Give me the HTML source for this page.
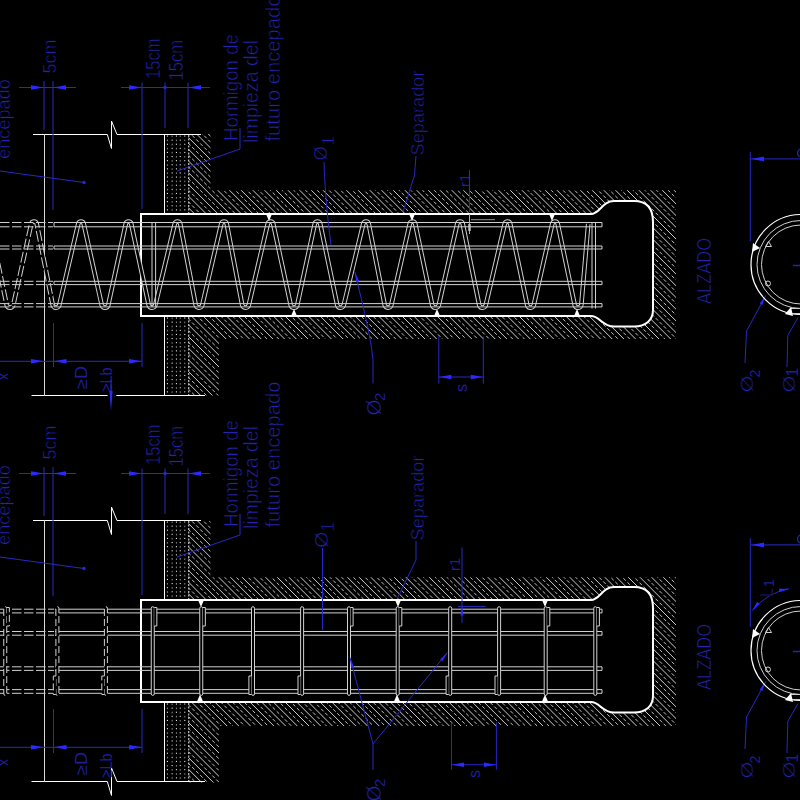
<!DOCTYPE html>
<html><head><meta charset="utf-8"><style>html,body{margin:0;padding:0;background:#000;}svg{display:block}</style></head>
<body><svg width="800" height="800" viewBox="0 0 800 800" font-family="Liberation Sans, sans-serif">
<rect width="800" height="800" fill="#000"/>
<clipPath id="hc0"><path d="M188.5,134 L210.5,134 L210.5,190.3 L676,190.3 L676,339 L219,339 L219,395.5 L188.5,395.5 Z"/></clipPath>
<g clip-path="url(#hc0)" stroke-width="1">
<line x1="180" y1="-374.00" x2="690" y2="136.00" stroke="#cccccc"/>
<line x1="180" y1="-368.15" x2="690" y2="141.85" stroke="#c0c0c0" stroke-dasharray="3.5 2.2"/>
<line x1="180" y1="-362.30" x2="690" y2="147.70" stroke="#cccccc"/>
<line x1="180" y1="-356.45" x2="690" y2="153.55" stroke="#c0c0c0" stroke-dasharray="3.5 2.2"/>
<line x1="180" y1="-350.60" x2="690" y2="159.40" stroke="#cccccc"/>
<line x1="180" y1="-344.75" x2="690" y2="165.25" stroke="#c0c0c0" stroke-dasharray="3.5 2.2"/>
<line x1="180" y1="-338.90" x2="690" y2="171.10" stroke="#cccccc"/>
<line x1="180" y1="-333.05" x2="690" y2="176.95" stroke="#c0c0c0" stroke-dasharray="3.5 2.2"/>
<line x1="180" y1="-327.20" x2="690" y2="182.80" stroke="#cccccc"/>
<line x1="180" y1="-321.35" x2="690" y2="188.65" stroke="#c0c0c0" stroke-dasharray="3.5 2.2"/>
<line x1="180" y1="-315.50" x2="690" y2="194.50" stroke="#cccccc"/>
<line x1="180" y1="-309.65" x2="690" y2="200.35" stroke="#c0c0c0" stroke-dasharray="3.5 2.2"/>
<line x1="180" y1="-303.80" x2="690" y2="206.20" stroke="#cccccc"/>
<line x1="180" y1="-297.95" x2="690" y2="212.05" stroke="#c0c0c0" stroke-dasharray="3.5 2.2"/>
<line x1="180" y1="-292.10" x2="690" y2="217.90" stroke="#cccccc"/>
<line x1="180" y1="-286.25" x2="690" y2="223.75" stroke="#c0c0c0" stroke-dasharray="3.5 2.2"/>
<line x1="180" y1="-280.40" x2="690" y2="229.60" stroke="#cccccc"/>
<line x1="180" y1="-274.55" x2="690" y2="235.45" stroke="#c0c0c0" stroke-dasharray="3.5 2.2"/>
<line x1="180" y1="-268.70" x2="690" y2="241.30" stroke="#cccccc"/>
<line x1="180" y1="-262.85" x2="690" y2="247.15" stroke="#c0c0c0" stroke-dasharray="3.5 2.2"/>
<line x1="180" y1="-257.00" x2="690" y2="253.00" stroke="#cccccc"/>
<line x1="180" y1="-251.15" x2="690" y2="258.85" stroke="#c0c0c0" stroke-dasharray="3.5 2.2"/>
<line x1="180" y1="-245.30" x2="690" y2="264.70" stroke="#cccccc"/>
<line x1="180" y1="-239.45" x2="690" y2="270.55" stroke="#c0c0c0" stroke-dasharray="3.5 2.2"/>
<line x1="180" y1="-233.60" x2="690" y2="276.40" stroke="#cccccc"/>
<line x1="180" y1="-227.75" x2="690" y2="282.25" stroke="#c0c0c0" stroke-dasharray="3.5 2.2"/>
<line x1="180" y1="-221.90" x2="690" y2="288.10" stroke="#cccccc"/>
<line x1="180" y1="-216.05" x2="690" y2="293.95" stroke="#c0c0c0" stroke-dasharray="3.5 2.2"/>
<line x1="180" y1="-210.20" x2="690" y2="299.80" stroke="#cccccc"/>
<line x1="180" y1="-204.35" x2="690" y2="305.65" stroke="#c0c0c0" stroke-dasharray="3.5 2.2"/>
<line x1="180" y1="-198.50" x2="690" y2="311.50" stroke="#cccccc"/>
<line x1="180" y1="-192.65" x2="690" y2="317.35" stroke="#c0c0c0" stroke-dasharray="3.5 2.2"/>
<line x1="180" y1="-186.80" x2="690" y2="323.20" stroke="#cccccc"/>
<line x1="180" y1="-180.95" x2="690" y2="329.05" stroke="#c0c0c0" stroke-dasharray="3.5 2.2"/>
<line x1="180" y1="-175.10" x2="690" y2="334.90" stroke="#cccccc"/>
<line x1="180" y1="-169.25" x2="690" y2="340.75" stroke="#c0c0c0" stroke-dasharray="3.5 2.2"/>
<line x1="180" y1="-163.40" x2="690" y2="346.60" stroke="#cccccc"/>
<line x1="180" y1="-157.55" x2="690" y2="352.45" stroke="#c0c0c0" stroke-dasharray="3.5 2.2"/>
<line x1="180" y1="-151.70" x2="690" y2="358.30" stroke="#cccccc"/>
<line x1="180" y1="-145.85" x2="690" y2="364.15" stroke="#c0c0c0" stroke-dasharray="3.5 2.2"/>
<line x1="180" y1="-140.00" x2="690" y2="370.00" stroke="#cccccc"/>
<line x1="180" y1="-134.15" x2="690" y2="375.85" stroke="#c0c0c0" stroke-dasharray="3.5 2.2"/>
<line x1="180" y1="-128.30" x2="690" y2="381.70" stroke="#cccccc"/>
<line x1="180" y1="-122.45" x2="690" y2="387.55" stroke="#c0c0c0" stroke-dasharray="3.5 2.2"/>
<line x1="180" y1="-116.60" x2="690" y2="393.40" stroke="#cccccc"/>
<line x1="180" y1="-110.75" x2="690" y2="399.25" stroke="#c0c0c0" stroke-dasharray="3.5 2.2"/>
<line x1="180" y1="-104.90" x2="690" y2="405.10" stroke="#cccccc"/>
<line x1="180" y1="-99.05" x2="690" y2="410.95" stroke="#c0c0c0" stroke-dasharray="3.5 2.2"/>
<line x1="180" y1="-93.20" x2="690" y2="416.80" stroke="#cccccc"/>
<line x1="180" y1="-87.35" x2="690" y2="422.65" stroke="#c0c0c0" stroke-dasharray="3.5 2.2"/>
<line x1="180" y1="-81.50" x2="690" y2="428.50" stroke="#cccccc"/>
<line x1="180" y1="-75.65" x2="690" y2="434.35" stroke="#c0c0c0" stroke-dasharray="3.5 2.2"/>
<line x1="180" y1="-69.80" x2="690" y2="440.20" stroke="#cccccc"/>
<line x1="180" y1="-63.95" x2="690" y2="446.05" stroke="#c0c0c0" stroke-dasharray="3.5 2.2"/>
<line x1="180" y1="-58.10" x2="690" y2="451.90" stroke="#cccccc"/>
<line x1="180" y1="-52.25" x2="690" y2="457.75" stroke="#c0c0c0" stroke-dasharray="3.5 2.2"/>
<line x1="180" y1="-46.40" x2="690" y2="463.60" stroke="#cccccc"/>
<line x1="180" y1="-40.55" x2="690" y2="469.45" stroke="#c0c0c0" stroke-dasharray="3.5 2.2"/>
<line x1="180" y1="-34.70" x2="690" y2="475.30" stroke="#cccccc"/>
<line x1="180" y1="-28.85" x2="690" y2="481.15" stroke="#c0c0c0" stroke-dasharray="3.5 2.2"/>
<line x1="180" y1="-23.00" x2="690" y2="487.00" stroke="#cccccc"/>
<line x1="180" y1="-17.15" x2="690" y2="492.85" stroke="#c0c0c0" stroke-dasharray="3.5 2.2"/>
<line x1="180" y1="-11.30" x2="690" y2="498.70" stroke="#cccccc"/>
<line x1="180" y1="-5.45" x2="690" y2="504.55" stroke="#c0c0c0" stroke-dasharray="3.5 2.2"/>
<line x1="180" y1="0.40" x2="690" y2="510.40" stroke="#cccccc"/>
<line x1="180" y1="6.25" x2="690" y2="516.25" stroke="#c0c0c0" stroke-dasharray="3.5 2.2"/>
<line x1="180" y1="12.10" x2="690" y2="522.10" stroke="#cccccc"/>
<line x1="180" y1="17.95" x2="690" y2="527.95" stroke="#c0c0c0" stroke-dasharray="3.5 2.2"/>
<line x1="180" y1="23.80" x2="690" y2="533.80" stroke="#cccccc"/>
<line x1="180" y1="29.65" x2="690" y2="539.65" stroke="#c0c0c0" stroke-dasharray="3.5 2.2"/>
<line x1="180" y1="35.50" x2="690" y2="545.50" stroke="#cccccc"/>
<line x1="180" y1="41.35" x2="690" y2="551.35" stroke="#c0c0c0" stroke-dasharray="3.5 2.2"/>
<line x1="180" y1="47.20" x2="690" y2="557.20" stroke="#cccccc"/>
<line x1="180" y1="53.05" x2="690" y2="563.05" stroke="#c0c0c0" stroke-dasharray="3.5 2.2"/>
<line x1="180" y1="58.90" x2="690" y2="568.90" stroke="#cccccc"/>
<line x1="180" y1="64.75" x2="690" y2="574.75" stroke="#c0c0c0" stroke-dasharray="3.5 2.2"/>
<line x1="180" y1="70.60" x2="690" y2="580.60" stroke="#cccccc"/>
<line x1="180" y1="76.45" x2="690" y2="586.45" stroke="#c0c0c0" stroke-dasharray="3.5 2.2"/>
<line x1="180" y1="82.30" x2="690" y2="592.30" stroke="#cccccc"/>
<line x1="180" y1="88.15" x2="690" y2="598.15" stroke="#c0c0c0" stroke-dasharray="3.5 2.2"/>
<line x1="180" y1="94.00" x2="690" y2="604.00" stroke="#cccccc"/>
<line x1="180" y1="99.85" x2="690" y2="609.85" stroke="#c0c0c0" stroke-dasharray="3.5 2.2"/>
<line x1="180" y1="105.70" x2="690" y2="615.70" stroke="#cccccc"/>
<line x1="180" y1="111.55" x2="690" y2="621.55" stroke="#c0c0c0" stroke-dasharray="3.5 2.2"/>
<line x1="180" y1="117.40" x2="690" y2="627.40" stroke="#cccccc"/>
<line x1="180" y1="123.25" x2="690" y2="633.25" stroke="#c0c0c0" stroke-dasharray="3.5 2.2"/>
<line x1="180" y1="129.10" x2="690" y2="639.10" stroke="#cccccc"/>
<line x1="180" y1="134.95" x2="690" y2="644.95" stroke="#c0c0c0" stroke-dasharray="3.5 2.2"/>
<line x1="180" y1="140.80" x2="690" y2="650.80" stroke="#cccccc"/>
<line x1="180" y1="146.65" x2="690" y2="656.65" stroke="#c0c0c0" stroke-dasharray="3.5 2.2"/>
<line x1="180" y1="152.50" x2="690" y2="662.50" stroke="#cccccc"/>
<line x1="180" y1="158.35" x2="690" y2="668.35" stroke="#c0c0c0" stroke-dasharray="3.5 2.2"/>
<line x1="180" y1="164.20" x2="690" y2="674.20" stroke="#cccccc"/>
<line x1="180" y1="170.05" x2="690" y2="680.05" stroke="#c0c0c0" stroke-dasharray="3.5 2.2"/>
<line x1="180" y1="175.90" x2="690" y2="685.90" stroke="#cccccc"/>
<line x1="180" y1="181.75" x2="690" y2="691.75" stroke="#c0c0c0" stroke-dasharray="3.5 2.2"/>
<line x1="180" y1="187.60" x2="690" y2="697.60" stroke="#cccccc"/>
<line x1="180" y1="193.45" x2="690" y2="703.45" stroke="#c0c0c0" stroke-dasharray="3.5 2.2"/>
<line x1="180" y1="199.30" x2="690" y2="709.30" stroke="#cccccc"/>
<line x1="180" y1="205.15" x2="690" y2="715.15" stroke="#c0c0c0" stroke-dasharray="3.5 2.2"/>
<line x1="180" y1="211.00" x2="690" y2="721.00" stroke="#cccccc"/>
<line x1="180" y1="216.85" x2="690" y2="726.85" stroke="#c0c0c0" stroke-dasharray="3.5 2.2"/>
<line x1="180" y1="222.70" x2="690" y2="732.70" stroke="#cccccc"/>
<line x1="180" y1="228.55" x2="690" y2="738.55" stroke="#c0c0c0" stroke-dasharray="3.5 2.2"/>
<line x1="180" y1="234.40" x2="690" y2="744.40" stroke="#cccccc"/>
<line x1="180" y1="240.25" x2="690" y2="750.25" stroke="#c0c0c0" stroke-dasharray="3.5 2.2"/>
<line x1="180" y1="246.10" x2="690" y2="756.10" stroke="#cccccc"/>
<line x1="180" y1="251.95" x2="690" y2="761.95" stroke="#c0c0c0" stroke-dasharray="3.5 2.2"/>
<line x1="180" y1="257.80" x2="690" y2="767.80" stroke="#cccccc"/>
<line x1="180" y1="263.65" x2="690" y2="773.65" stroke="#c0c0c0" stroke-dasharray="3.5 2.2"/>
<line x1="180" y1="269.50" x2="690" y2="779.50" stroke="#cccccc"/>
<line x1="180" y1="275.35" x2="690" y2="785.35" stroke="#c0c0c0" stroke-dasharray="3.5 2.2"/>
<line x1="180" y1="281.20" x2="690" y2="791.20" stroke="#cccccc"/>
<line x1="180" y1="287.05" x2="690" y2="797.05" stroke="#c0c0c0" stroke-dasharray="3.5 2.2"/>
<line x1="180" y1="292.90" x2="690" y2="802.90" stroke="#cccccc"/>
<line x1="180" y1="298.75" x2="690" y2="808.75" stroke="#c0c0c0" stroke-dasharray="3.5 2.2"/>
<line x1="180" y1="304.60" x2="690" y2="814.60" stroke="#cccccc"/>
<line x1="180" y1="310.45" x2="690" y2="820.45" stroke="#c0c0c0" stroke-dasharray="3.5 2.2"/>
<line x1="180" y1="316.30" x2="690" y2="826.30" stroke="#cccccc"/>
<line x1="180" y1="322.15" x2="690" y2="832.15" stroke="#c0c0c0" stroke-dasharray="3.5 2.2"/>
<line x1="180" y1="328.00" x2="690" y2="838.00" stroke="#cccccc"/>
<line x1="180" y1="333.85" x2="690" y2="843.85" stroke="#c0c0c0" stroke-dasharray="3.5 2.2"/>
<line x1="180" y1="339.70" x2="690" y2="849.70" stroke="#cccccc"/>
<line x1="180" y1="345.55" x2="690" y2="855.55" stroke="#c0c0c0" stroke-dasharray="3.5 2.2"/>
<line x1="180" y1="351.40" x2="690" y2="861.40" stroke="#cccccc"/>
<line x1="180" y1="357.25" x2="690" y2="867.25" stroke="#c0c0c0" stroke-dasharray="3.5 2.2"/>
<line x1="180" y1="363.10" x2="690" y2="873.10" stroke="#cccccc"/>
<line x1="180" y1="368.95" x2="690" y2="878.95" stroke="#c0c0c0" stroke-dasharray="3.5 2.2"/>
<line x1="180" y1="374.80" x2="690" y2="884.80" stroke="#cccccc"/>
<line x1="180" y1="380.65" x2="690" y2="890.65" stroke="#c0c0c0" stroke-dasharray="3.5 2.2"/>
<line x1="180" y1="386.50" x2="690" y2="896.50" stroke="#cccccc"/>
<line x1="180" y1="392.35" x2="690" y2="902.35" stroke="#c0c0c0" stroke-dasharray="3.5 2.2"/>
<line x1="180" y1="398.20" x2="690" y2="908.20" stroke="#cccccc"/>
</g>
<path d="M141,214 L591,214 C600,214 602,201 614,201 L634,201 C648,201 653,210 653,222 L653,310 C653,320 646,326.5 634,326.5 L614,326.5 C602,326.5 600,316 591,316 L141,316 Z" stroke="none" stroke-width="0" fill="#000" />
<g>
<rect x="166.9" y="135.5" width="1.1" height="1.1" fill="#e6e6e6"/>
<rect x="171.6" y="135.5" width="1.1" height="1.6" fill="#7a7a7a"/>
<rect x="175.9" y="135.5" width="1.1" height="1.1" fill="#e6e6e6"/>
<rect x="179.7" y="135.5" width="1.1" height="1.6" fill="#7a7a7a"/>
<rect x="184.2" y="135.5" width="1.1" height="1.1" fill="#e6e6e6"/>
<rect x="166.9" y="139.6" width="1.1" height="1.6" fill="#7a7a7a"/>
<rect x="171.6" y="139.6" width="1.1" height="1.1" fill="#e6e6e6"/>
<rect x="175.9" y="139.6" width="1.1" height="1.6" fill="#7a7a7a"/>
<rect x="179.7" y="139.6" width="1.1" height="1.1" fill="#e6e6e6"/>
<rect x="184.2" y="139.6" width="1.1" height="1.6" fill="#7a7a7a"/>
<rect x="166.9" y="143.7" width="1.1" height="1.1" fill="#e6e6e6"/>
<rect x="171.6" y="143.7" width="1.1" height="1.6" fill="#7a7a7a"/>
<rect x="175.9" y="143.7" width="1.1" height="1.1" fill="#e6e6e6"/>
<rect x="179.7" y="143.7" width="1.1" height="1.6" fill="#7a7a7a"/>
<rect x="184.2" y="143.7" width="1.1" height="1.1" fill="#e6e6e6"/>
<rect x="166.9" y="147.8" width="1.1" height="1.6" fill="#7a7a7a"/>
<rect x="171.6" y="147.8" width="1.1" height="1.1" fill="#e6e6e6"/>
<rect x="175.9" y="147.8" width="1.1" height="1.6" fill="#7a7a7a"/>
<rect x="179.7" y="147.8" width="1.1" height="1.1" fill="#e6e6e6"/>
<rect x="184.2" y="147.8" width="1.1" height="1.6" fill="#7a7a7a"/>
<rect x="166.9" y="151.9" width="1.1" height="1.1" fill="#e6e6e6"/>
<rect x="171.6" y="151.9" width="1.1" height="1.6" fill="#7a7a7a"/>
<rect x="175.9" y="151.9" width="1.1" height="1.1" fill="#e6e6e6"/>
<rect x="179.7" y="151.9" width="1.1" height="1.6" fill="#7a7a7a"/>
<rect x="184.2" y="151.9" width="1.1" height="1.1" fill="#e6e6e6"/>
<rect x="166.9" y="156.0" width="1.1" height="1.6" fill="#7a7a7a"/>
<rect x="171.6" y="156.0" width="1.1" height="1.1" fill="#e6e6e6"/>
<rect x="175.9" y="156.0" width="1.1" height="1.6" fill="#7a7a7a"/>
<rect x="179.7" y="156.0" width="1.1" height="1.1" fill="#e6e6e6"/>
<rect x="184.2" y="156.0" width="1.1" height="1.6" fill="#7a7a7a"/>
<rect x="166.9" y="160.1" width="1.1" height="1.1" fill="#e6e6e6"/>
<rect x="171.6" y="160.1" width="1.1" height="1.6" fill="#7a7a7a"/>
<rect x="175.9" y="160.1" width="1.1" height="1.1" fill="#e6e6e6"/>
<rect x="179.7" y="160.1" width="1.1" height="1.6" fill="#7a7a7a"/>
<rect x="184.2" y="160.1" width="1.1" height="1.1" fill="#e6e6e6"/>
<rect x="166.9" y="164.2" width="1.1" height="1.6" fill="#7a7a7a"/>
<rect x="171.6" y="164.2" width="1.1" height="1.1" fill="#e6e6e6"/>
<rect x="175.9" y="164.2" width="1.1" height="1.6" fill="#7a7a7a"/>
<rect x="179.7" y="164.2" width="1.1" height="1.1" fill="#e6e6e6"/>
<rect x="184.2" y="164.2" width="1.1" height="1.6" fill="#7a7a7a"/>
<rect x="166.9" y="168.3" width="1.1" height="1.1" fill="#e6e6e6"/>
<rect x="171.6" y="168.3" width="1.1" height="1.6" fill="#7a7a7a"/>
<rect x="175.9" y="168.3" width="1.1" height="1.1" fill="#e6e6e6"/>
<rect x="179.7" y="168.3" width="1.1" height="1.6" fill="#7a7a7a"/>
<rect x="184.2" y="168.3" width="1.1" height="1.1" fill="#e6e6e6"/>
<rect x="166.9" y="172.4" width="1.1" height="1.6" fill="#7a7a7a"/>
<rect x="171.6" y="172.4" width="1.1" height="1.1" fill="#e6e6e6"/>
<rect x="175.9" y="172.4" width="1.1" height="1.6" fill="#7a7a7a"/>
<rect x="179.7" y="172.4" width="1.1" height="1.1" fill="#e6e6e6"/>
<rect x="184.2" y="172.4" width="1.1" height="1.6" fill="#7a7a7a"/>
<rect x="166.9" y="176.5" width="1.1" height="1.1" fill="#e6e6e6"/>
<rect x="171.6" y="176.5" width="1.1" height="1.6" fill="#7a7a7a"/>
<rect x="175.9" y="176.5" width="1.1" height="1.1" fill="#e6e6e6"/>
<rect x="179.7" y="176.5" width="1.1" height="1.6" fill="#7a7a7a"/>
<rect x="184.2" y="176.5" width="1.1" height="1.1" fill="#e6e6e6"/>
<rect x="166.9" y="180.6" width="1.1" height="1.6" fill="#7a7a7a"/>
<rect x="171.6" y="180.6" width="1.1" height="1.1" fill="#e6e6e6"/>
<rect x="175.9" y="180.6" width="1.1" height="1.6" fill="#7a7a7a"/>
<rect x="179.7" y="180.6" width="1.1" height="1.1" fill="#e6e6e6"/>
<rect x="184.2" y="180.6" width="1.1" height="1.6" fill="#7a7a7a"/>
<rect x="166.9" y="184.7" width="1.1" height="1.1" fill="#e6e6e6"/>
<rect x="171.6" y="184.7" width="1.1" height="1.6" fill="#7a7a7a"/>
<rect x="175.9" y="184.7" width="1.1" height="1.1" fill="#e6e6e6"/>
<rect x="179.7" y="184.7" width="1.1" height="1.6" fill="#7a7a7a"/>
<rect x="184.2" y="184.7" width="1.1" height="1.1" fill="#e6e6e6"/>
<rect x="166.9" y="188.8" width="1.1" height="1.6" fill="#7a7a7a"/>
<rect x="171.6" y="188.8" width="1.1" height="1.1" fill="#e6e6e6"/>
<rect x="175.9" y="188.8" width="1.1" height="1.6" fill="#7a7a7a"/>
<rect x="179.7" y="188.8" width="1.1" height="1.1" fill="#e6e6e6"/>
<rect x="184.2" y="188.8" width="1.1" height="1.6" fill="#7a7a7a"/>
<rect x="166.9" y="192.9" width="1.1" height="1.1" fill="#e6e6e6"/>
<rect x="171.6" y="192.9" width="1.1" height="1.6" fill="#7a7a7a"/>
<rect x="175.9" y="192.9" width="1.1" height="1.1" fill="#e6e6e6"/>
<rect x="179.7" y="192.9" width="1.1" height="1.6" fill="#7a7a7a"/>
<rect x="184.2" y="192.9" width="1.1" height="1.1" fill="#e6e6e6"/>
<rect x="166.9" y="197.0" width="1.1" height="1.6" fill="#7a7a7a"/>
<rect x="171.6" y="197.0" width="1.1" height="1.1" fill="#e6e6e6"/>
<rect x="175.9" y="197.0" width="1.1" height="1.6" fill="#7a7a7a"/>
<rect x="179.7" y="197.0" width="1.1" height="1.1" fill="#e6e6e6"/>
<rect x="184.2" y="197.0" width="1.1" height="1.6" fill="#7a7a7a"/>
<rect x="166.9" y="201.1" width="1.1" height="1.1" fill="#e6e6e6"/>
<rect x="171.6" y="201.1" width="1.1" height="1.6" fill="#7a7a7a"/>
<rect x="175.9" y="201.1" width="1.1" height="1.1" fill="#e6e6e6"/>
<rect x="179.7" y="201.1" width="1.1" height="1.6" fill="#7a7a7a"/>
<rect x="184.2" y="201.1" width="1.1" height="1.1" fill="#e6e6e6"/>
<rect x="166.9" y="205.2" width="1.1" height="1.6" fill="#7a7a7a"/>
<rect x="171.6" y="205.2" width="1.1" height="1.1" fill="#e6e6e6"/>
<rect x="175.9" y="205.2" width="1.1" height="1.6" fill="#7a7a7a"/>
<rect x="179.7" y="205.2" width="1.1" height="1.1" fill="#e6e6e6"/>
<rect x="184.2" y="205.2" width="1.1" height="1.6" fill="#7a7a7a"/>
<rect x="166.9" y="209.3" width="1.1" height="1.1" fill="#e6e6e6"/>
<rect x="171.6" y="209.3" width="1.1" height="1.6" fill="#7a7a7a"/>
<rect x="175.9" y="209.3" width="1.1" height="1.1" fill="#e6e6e6"/>
<rect x="179.7" y="209.3" width="1.1" height="1.6" fill="#7a7a7a"/>
<rect x="184.2" y="209.3" width="1.1" height="1.1" fill="#e6e6e6"/>
<rect x="188.2" y="135.0" width="1.1" height="2" fill="#d8d8d8"/>
<rect x="188.2" y="138.5" width="1.1" height="2" fill="#d8d8d8"/>
<rect x="188.2" y="142.0" width="1.1" height="2" fill="#d8d8d8"/>
<rect x="188.2" y="145.5" width="1.1" height="2" fill="#d8d8d8"/>
<rect x="188.2" y="149.0" width="1.1" height="2" fill="#d8d8d8"/>
<rect x="188.2" y="152.5" width="1.1" height="2" fill="#d8d8d8"/>
<rect x="188.2" y="156.0" width="1.1" height="2" fill="#d8d8d8"/>
<rect x="188.2" y="159.5" width="1.1" height="2" fill="#d8d8d8"/>
<rect x="188.2" y="163.0" width="1.1" height="2" fill="#d8d8d8"/>
<rect x="188.2" y="166.5" width="1.1" height="2" fill="#d8d8d8"/>
<rect x="188.2" y="170.0" width="1.1" height="2" fill="#d8d8d8"/>
<rect x="188.2" y="173.5" width="1.1" height="2" fill="#d8d8d8"/>
<rect x="188.2" y="177.0" width="1.1" height="2" fill="#d8d8d8"/>
<rect x="188.2" y="180.5" width="1.1" height="2" fill="#d8d8d8"/>
<rect x="188.2" y="184.0" width="1.1" height="2" fill="#d8d8d8"/>
<rect x="188.2" y="187.5" width="1.1" height="2" fill="#d8d8d8"/>
<rect x="188.2" y="191.0" width="1.1" height="2" fill="#d8d8d8"/>
<rect x="188.2" y="194.5" width="1.1" height="2" fill="#d8d8d8"/>
<rect x="188.2" y="198.0" width="1.1" height="2" fill="#d8d8d8"/>
<rect x="188.2" y="201.5" width="1.1" height="2" fill="#d8d8d8"/>
<rect x="188.2" y="205.0" width="1.1" height="2" fill="#d8d8d8"/>
<rect x="188.2" y="208.5" width="1.1" height="2" fill="#d8d8d8"/>
<rect x="188.2" y="212.0" width="1.1" height="2" fill="#d8d8d8"/>
<rect x="166.9" y="317.5" width="1.1" height="1.1" fill="#e6e6e6"/>
<rect x="171.6" y="317.5" width="1.1" height="1.6" fill="#7a7a7a"/>
<rect x="175.9" y="317.5" width="1.1" height="1.1" fill="#e6e6e6"/>
<rect x="179.7" y="317.5" width="1.1" height="1.6" fill="#7a7a7a"/>
<rect x="184.2" y="317.5" width="1.1" height="1.1" fill="#e6e6e6"/>
<rect x="166.9" y="321.6" width="1.1" height="1.6" fill="#7a7a7a"/>
<rect x="171.6" y="321.6" width="1.1" height="1.1" fill="#e6e6e6"/>
<rect x="175.9" y="321.6" width="1.1" height="1.6" fill="#7a7a7a"/>
<rect x="179.7" y="321.6" width="1.1" height="1.1" fill="#e6e6e6"/>
<rect x="184.2" y="321.6" width="1.1" height="1.6" fill="#7a7a7a"/>
<rect x="166.9" y="325.7" width="1.1" height="1.1" fill="#e6e6e6"/>
<rect x="171.6" y="325.7" width="1.1" height="1.6" fill="#7a7a7a"/>
<rect x="175.9" y="325.7" width="1.1" height="1.1" fill="#e6e6e6"/>
<rect x="179.7" y="325.7" width="1.1" height="1.6" fill="#7a7a7a"/>
<rect x="184.2" y="325.7" width="1.1" height="1.1" fill="#e6e6e6"/>
<rect x="166.9" y="329.8" width="1.1" height="1.6" fill="#7a7a7a"/>
<rect x="171.6" y="329.8" width="1.1" height="1.1" fill="#e6e6e6"/>
<rect x="175.9" y="329.8" width="1.1" height="1.6" fill="#7a7a7a"/>
<rect x="179.7" y="329.8" width="1.1" height="1.1" fill="#e6e6e6"/>
<rect x="184.2" y="329.8" width="1.1" height="1.6" fill="#7a7a7a"/>
<rect x="166.9" y="333.9" width="1.1" height="1.1" fill="#e6e6e6"/>
<rect x="171.6" y="333.9" width="1.1" height="1.6" fill="#7a7a7a"/>
<rect x="175.9" y="333.9" width="1.1" height="1.1" fill="#e6e6e6"/>
<rect x="179.7" y="333.9" width="1.1" height="1.6" fill="#7a7a7a"/>
<rect x="184.2" y="333.9" width="1.1" height="1.1" fill="#e6e6e6"/>
<rect x="166.9" y="338.0" width="1.1" height="1.6" fill="#7a7a7a"/>
<rect x="171.6" y="338.0" width="1.1" height="1.1" fill="#e6e6e6"/>
<rect x="175.9" y="338.0" width="1.1" height="1.6" fill="#7a7a7a"/>
<rect x="179.7" y="338.0" width="1.1" height="1.1" fill="#e6e6e6"/>
<rect x="184.2" y="338.0" width="1.1" height="1.6" fill="#7a7a7a"/>
<rect x="166.9" y="342.1" width="1.1" height="1.1" fill="#e6e6e6"/>
<rect x="171.6" y="342.1" width="1.1" height="1.6" fill="#7a7a7a"/>
<rect x="175.9" y="342.1" width="1.1" height="1.1" fill="#e6e6e6"/>
<rect x="179.7" y="342.1" width="1.1" height="1.6" fill="#7a7a7a"/>
<rect x="184.2" y="342.1" width="1.1" height="1.1" fill="#e6e6e6"/>
<rect x="166.9" y="346.2" width="1.1" height="1.6" fill="#7a7a7a"/>
<rect x="171.6" y="346.2" width="1.1" height="1.1" fill="#e6e6e6"/>
<rect x="175.9" y="346.2" width="1.1" height="1.6" fill="#7a7a7a"/>
<rect x="179.7" y="346.2" width="1.1" height="1.1" fill="#e6e6e6"/>
<rect x="184.2" y="346.2" width="1.1" height="1.6" fill="#7a7a7a"/>
<rect x="166.9" y="350.3" width="1.1" height="1.1" fill="#e6e6e6"/>
<rect x="171.6" y="350.3" width="1.1" height="1.6" fill="#7a7a7a"/>
<rect x="175.9" y="350.3" width="1.1" height="1.1" fill="#e6e6e6"/>
<rect x="179.7" y="350.3" width="1.1" height="1.6" fill="#7a7a7a"/>
<rect x="184.2" y="350.3" width="1.1" height="1.1" fill="#e6e6e6"/>
<rect x="166.9" y="354.4" width="1.1" height="1.6" fill="#7a7a7a"/>
<rect x="171.6" y="354.4" width="1.1" height="1.1" fill="#e6e6e6"/>
<rect x="175.9" y="354.4" width="1.1" height="1.6" fill="#7a7a7a"/>
<rect x="179.7" y="354.4" width="1.1" height="1.1" fill="#e6e6e6"/>
<rect x="184.2" y="354.4" width="1.1" height="1.6" fill="#7a7a7a"/>
<rect x="166.9" y="358.5" width="1.1" height="1.1" fill="#e6e6e6"/>
<rect x="171.6" y="358.5" width="1.1" height="1.6" fill="#7a7a7a"/>
<rect x="175.9" y="358.5" width="1.1" height="1.1" fill="#e6e6e6"/>
<rect x="179.7" y="358.5" width="1.1" height="1.6" fill="#7a7a7a"/>
<rect x="184.2" y="358.5" width="1.1" height="1.1" fill="#e6e6e6"/>
<rect x="166.9" y="362.6" width="1.1" height="1.6" fill="#7a7a7a"/>
<rect x="171.6" y="362.6" width="1.1" height="1.1" fill="#e6e6e6"/>
<rect x="175.9" y="362.6" width="1.1" height="1.6" fill="#7a7a7a"/>
<rect x="179.7" y="362.6" width="1.1" height="1.1" fill="#e6e6e6"/>
<rect x="184.2" y="362.6" width="1.1" height="1.6" fill="#7a7a7a"/>
<rect x="166.9" y="366.7" width="1.1" height="1.1" fill="#e6e6e6"/>
<rect x="171.6" y="366.7" width="1.1" height="1.6" fill="#7a7a7a"/>
<rect x="175.9" y="366.7" width="1.1" height="1.1" fill="#e6e6e6"/>
<rect x="179.7" y="366.7" width="1.1" height="1.6" fill="#7a7a7a"/>
<rect x="184.2" y="366.7" width="1.1" height="1.1" fill="#e6e6e6"/>
<rect x="166.9" y="370.8" width="1.1" height="1.6" fill="#7a7a7a"/>
<rect x="171.6" y="370.8" width="1.1" height="1.1" fill="#e6e6e6"/>
<rect x="175.9" y="370.8" width="1.1" height="1.6" fill="#7a7a7a"/>
<rect x="179.7" y="370.8" width="1.1" height="1.1" fill="#e6e6e6"/>
<rect x="184.2" y="370.8" width="1.1" height="1.6" fill="#7a7a7a"/>
<rect x="166.9" y="374.9" width="1.1" height="1.1" fill="#e6e6e6"/>
<rect x="171.6" y="374.9" width="1.1" height="1.6" fill="#7a7a7a"/>
<rect x="175.9" y="374.9" width="1.1" height="1.1" fill="#e6e6e6"/>
<rect x="179.7" y="374.9" width="1.1" height="1.6" fill="#7a7a7a"/>
<rect x="184.2" y="374.9" width="1.1" height="1.1" fill="#e6e6e6"/>
<rect x="166.9" y="379.0" width="1.1" height="1.6" fill="#7a7a7a"/>
<rect x="171.6" y="379.0" width="1.1" height="1.1" fill="#e6e6e6"/>
<rect x="175.9" y="379.0" width="1.1" height="1.6" fill="#7a7a7a"/>
<rect x="179.7" y="379.0" width="1.1" height="1.1" fill="#e6e6e6"/>
<rect x="184.2" y="379.0" width="1.1" height="1.6" fill="#7a7a7a"/>
<rect x="166.9" y="383.1" width="1.1" height="1.1" fill="#e6e6e6"/>
<rect x="171.6" y="383.1" width="1.1" height="1.6" fill="#7a7a7a"/>
<rect x="175.9" y="383.1" width="1.1" height="1.1" fill="#e6e6e6"/>
<rect x="179.7" y="383.1" width="1.1" height="1.6" fill="#7a7a7a"/>
<rect x="184.2" y="383.1" width="1.1" height="1.1" fill="#e6e6e6"/>
<rect x="166.9" y="387.2" width="1.1" height="1.6" fill="#7a7a7a"/>
<rect x="171.6" y="387.2" width="1.1" height="1.1" fill="#e6e6e6"/>
<rect x="175.9" y="387.2" width="1.1" height="1.6" fill="#7a7a7a"/>
<rect x="179.7" y="387.2" width="1.1" height="1.1" fill="#e6e6e6"/>
<rect x="184.2" y="387.2" width="1.1" height="1.6" fill="#7a7a7a"/>
<rect x="166.9" y="391.3" width="1.1" height="1.1" fill="#e6e6e6"/>
<rect x="171.6" y="391.3" width="1.1" height="1.6" fill="#7a7a7a"/>
<rect x="175.9" y="391.3" width="1.1" height="1.1" fill="#e6e6e6"/>
<rect x="179.7" y="391.3" width="1.1" height="1.6" fill="#7a7a7a"/>
<rect x="184.2" y="391.3" width="1.1" height="1.1" fill="#e6e6e6"/>
<rect x="188.2" y="317.0" width="1.1" height="2" fill="#d8d8d8"/>
<rect x="188.2" y="320.5" width="1.1" height="2" fill="#d8d8d8"/>
<rect x="188.2" y="324.0" width="1.1" height="2" fill="#d8d8d8"/>
<rect x="188.2" y="327.5" width="1.1" height="2" fill="#d8d8d8"/>
<rect x="188.2" y="331.0" width="1.1" height="2" fill="#d8d8d8"/>
<rect x="188.2" y="334.5" width="1.1" height="2" fill="#d8d8d8"/>
<rect x="188.2" y="338.0" width="1.1" height="2" fill="#d8d8d8"/>
<rect x="188.2" y="341.5" width="1.1" height="2" fill="#d8d8d8"/>
<rect x="188.2" y="345.0" width="1.1" height="2" fill="#d8d8d8"/>
<rect x="188.2" y="348.5" width="1.1" height="2" fill="#d8d8d8"/>
<rect x="188.2" y="352.0" width="1.1" height="2" fill="#d8d8d8"/>
<rect x="188.2" y="355.5" width="1.1" height="2" fill="#d8d8d8"/>
<rect x="188.2" y="359.0" width="1.1" height="2" fill="#d8d8d8"/>
<rect x="188.2" y="362.5" width="1.1" height="2" fill="#d8d8d8"/>
<rect x="188.2" y="366.0" width="1.1" height="2" fill="#d8d8d8"/>
<rect x="188.2" y="369.5" width="1.1" height="2" fill="#d8d8d8"/>
<rect x="188.2" y="373.0" width="1.1" height="2" fill="#d8d8d8"/>
<rect x="188.2" y="376.5" width="1.1" height="2" fill="#d8d8d8"/>
<rect x="188.2" y="380.0" width="1.1" height="2" fill="#d8d8d8"/>
<rect x="188.2" y="383.5" width="1.1" height="2" fill="#d8d8d8"/>
<rect x="188.2" y="387.0" width="1.1" height="2" fill="#d8d8d8"/>
<rect x="188.2" y="390.5" width="1.1" height="2" fill="#d8d8d8"/>
<rect x="188.2" y="394.0" width="1.1" height="2" fill="#d8d8d8"/>
</g>
<line x1="164.50" y1="134.00" x2="164.50" y2="213.50" stroke="#ffffff" stroke-width="1" />
<line x1="164.50" y1="316.00" x2="164.50" y2="395.50" stroke="#ffffff" stroke-width="1" />
<path d="M33,134.5 L107.3,134.5 L111.5,148.5 L111.5,121 L117,134.5 L201,134.5" stroke="#ffffff" stroke-width="1" fill="none" />
<line x1="31.50" y1="395.50" x2="107.60" y2="395.50" stroke="#ffffff" stroke-width="1" />
<line x1="116.30" y1="395.50" x2="205.00" y2="395.50" stroke="#ffffff" stroke-width="1" />
<line x1="44.50" y1="134.00" x2="44.50" y2="396.00" stroke="#d8d8d8" stroke-width="1" />
<path d="M141,214 L591,214 C600,214 602,201 614,201 L634,201 C648,201 653,210 653,222 L653,310 C653,320 646,326.5 634,326.5 L614,326.5 C602,326.5 600,316 591,316 L141,316 Z" stroke="#ffffff" stroke-width="2" fill="none" />
<line x1="19.00" y1="87.50" x2="76.00" y2="87.50" stroke="#2828c4" stroke-width="1" />
<path d="M44.00,87.50 L31.00,89.80 L31.00,85.20 Z" fill="#2a2aff"/>
<path d="M53.00,87.50 L66.00,85.20 L66.00,89.80 Z" fill="#2a2aff"/>
<line x1="44.00" y1="81.00" x2="44.00" y2="130.00" stroke="#2828c4" stroke-width="1" />
<line x1="53.00" y1="81.00" x2="53.00" y2="210.00" stroke="#2828c4" stroke-width="1" />
<text transform="translate(56.00,73.50) rotate(-90)" font-size="19" fill="#2424b0" stroke="#000" stroke-width="0.6" text-anchor="start" textLength="34" lengthAdjust="spacingAndGlyphs">5cm</text>
<line x1="121.00" y1="87.50" x2="210.00" y2="87.50" stroke="#2828c4" stroke-width="1" />
<path d="M142.00,87.50 L129.00,89.80 L129.00,85.20 Z" fill="#2a2aff"/>
<path d="M188.00,87.50 L201.00,85.20 L201.00,89.80 Z" fill="#2a2aff"/>
<circle cx="165" cy="87.5" r="1.8" fill="#2828c4"/>
<line x1="142.00" y1="82.50" x2="142.00" y2="209.00" stroke="#2828c4" stroke-width="1" />
<line x1="165.00" y1="82.50" x2="165.00" y2="128.00" stroke="#2828c4" stroke-width="1" />
<line x1="188.00" y1="82.50" x2="188.00" y2="128.00" stroke="#2828c4" stroke-width="1" />
<text transform="translate(160.00,79.00) rotate(-90)" font-size="20" fill="#2424b0" stroke="#000" stroke-width="0.6" text-anchor="start" textLength="40.5" lengthAdjust="spacingAndGlyphs">15cm</text>
<text transform="translate(183.30,80.50) rotate(-90)" font-size="20" fill="#2424b0" stroke="#000" stroke-width="0.6" text-anchor="start" textLength="40.5" lengthAdjust="spacingAndGlyphs">15cm</text>
<line x1="0.00" y1="171.00" x2="84.00" y2="182.50" stroke="#2828c4" stroke-width="1" />
<circle cx="84" cy="182.5" r="1.8" fill="#2828c4"/>
<text transform="translate(9.50,159.00) rotate(-90)" font-size="19" fill="#2424b0" stroke="#000" stroke-width="0.6" text-anchor="start" textLength="80" lengthAdjust="spacingAndGlyphs">encepado</text>
<text transform="translate(237.50,141.00) rotate(-90)" font-size="20" fill="#2424b0" stroke="#000" stroke-width="0.6" text-anchor="start" textLength="107" lengthAdjust="spacingAndGlyphs">Hormigon de</text>
<text transform="translate(257.50,143.00) rotate(-90)" font-size="20" fill="#2424b0" stroke="#000" stroke-width="0.6" text-anchor="start" textLength="103" lengthAdjust="spacingAndGlyphs">limpieza del</text>
<text transform="translate(279.50,141.50) rotate(-90)" font-size="20" fill="#2424b0" stroke="#000" stroke-width="0.6" text-anchor="start" textLength="146" lengthAdjust="spacingAndGlyphs">futuro encepado</text>
<path d="M240,128 L240,149 L177,171" stroke="#2828c4" stroke-width="1" fill="none" />
<line x1="0.00" y1="361.30" x2="142.00" y2="361.30" stroke="#2828c4" stroke-width="1" />
<path d="M44.00,361.30 L31.00,363.60 L31.00,359.00 Z" fill="#2a2aff"/>
<path d="M53.50,361.30 L66.50,359.00 L66.50,363.60 Z" fill="#2a2aff"/>
<path d="M142.00,361.30 L129.00,363.60 L129.00,359.00 Z" fill="#2a2aff"/>
<line x1="53.50" y1="323.00" x2="53.50" y2="367.00" stroke="#2828c4" stroke-width="1" />
<line x1="142.00" y1="323.00" x2="142.00" y2="367.00" stroke="#2828c4" stroke-width="1" />
<text transform="translate(86.50,389.00) rotate(-90)" font-size="16" fill="#1e1e98" text-anchor="start" textLength="23" lengthAdjust="spacingAndGlyphs">&#8805;D</text>
<text transform="translate(111.50,391.50) rotate(-90)" font-size="16" fill="#1e1e98" text-anchor="start" textLength="24" lengthAdjust="spacingAndGlyphs">&#8805;Lb</text>
<line x1="111.00" y1="380.00" x2="111.00" y2="400.00" stroke="#2828c4" stroke-width="1" />
<path d="M111.00,411.00 L109.40,391.00 L112.60,391.00 Z" fill="#2a2aff"/>
<text transform="translate(8.00,380.00) rotate(-90)" font-size="14" fill="#1e1e98" text-anchor="start">x</text>
<text transform="translate(711.00,304.00) rotate(-90)" font-size="20" fill="#2424b0" stroke="#000" stroke-width="0.6" text-anchor="start" textLength="66" lengthAdjust="spacingAndGlyphs">ALZADO</text>
<line x1="438.80" y1="336.50" x2="438.80" y2="383.60" stroke="#2828c4" stroke-width="1" />
<line x1="483.30" y1="336.50" x2="483.30" y2="383.60" stroke="#2828c4" stroke-width="1" />
<line x1="438.80" y1="377.00" x2="483.30" y2="377.00" stroke="#2828c4" stroke-width="1" />
<path d="M439.30,377.00 L451.30,374.70 L451.30,379.30 Z" fill="#2a2aff"/>
<path d="M482.80,377.00 L470.80,379.30 L470.80,374.70 Z" fill="#2a2aff"/>
<text transform="translate(467.05,392.00) rotate(-90)" font-size="16" fill="#1e1e98" text-anchor="start">s</text>
<clipPath id="hc1"><path d="M188.5,521 L210.5,521 L210.5,577.3 L676,577.3 L676,726 L219,726 L219,782.5 L188.5,782.5 Z"/></clipPath>
<g clip-path="url(#hc1)" stroke-width="1">
<line x1="180" y1="12.00" x2="690" y2="522.00" stroke="#cccccc"/>
<line x1="180" y1="17.85" x2="690" y2="527.85" stroke="#c0c0c0" stroke-dasharray="3.5 2.2"/>
<line x1="180" y1="23.70" x2="690" y2="533.70" stroke="#cccccc"/>
<line x1="180" y1="29.55" x2="690" y2="539.55" stroke="#c0c0c0" stroke-dasharray="3.5 2.2"/>
<line x1="180" y1="35.40" x2="690" y2="545.40" stroke="#cccccc"/>
<line x1="180" y1="41.25" x2="690" y2="551.25" stroke="#c0c0c0" stroke-dasharray="3.5 2.2"/>
<line x1="180" y1="47.10" x2="690" y2="557.10" stroke="#cccccc"/>
<line x1="180" y1="52.95" x2="690" y2="562.95" stroke="#c0c0c0" stroke-dasharray="3.5 2.2"/>
<line x1="180" y1="58.80" x2="690" y2="568.80" stroke="#cccccc"/>
<line x1="180" y1="64.65" x2="690" y2="574.65" stroke="#c0c0c0" stroke-dasharray="3.5 2.2"/>
<line x1="180" y1="70.50" x2="690" y2="580.50" stroke="#cccccc"/>
<line x1="180" y1="76.35" x2="690" y2="586.35" stroke="#c0c0c0" stroke-dasharray="3.5 2.2"/>
<line x1="180" y1="82.20" x2="690" y2="592.20" stroke="#cccccc"/>
<line x1="180" y1="88.05" x2="690" y2="598.05" stroke="#c0c0c0" stroke-dasharray="3.5 2.2"/>
<line x1="180" y1="93.90" x2="690" y2="603.90" stroke="#cccccc"/>
<line x1="180" y1="99.75" x2="690" y2="609.75" stroke="#c0c0c0" stroke-dasharray="3.5 2.2"/>
<line x1="180" y1="105.60" x2="690" y2="615.60" stroke="#cccccc"/>
<line x1="180" y1="111.45" x2="690" y2="621.45" stroke="#c0c0c0" stroke-dasharray="3.5 2.2"/>
<line x1="180" y1="117.30" x2="690" y2="627.30" stroke="#cccccc"/>
<line x1="180" y1="123.15" x2="690" y2="633.15" stroke="#c0c0c0" stroke-dasharray="3.5 2.2"/>
<line x1="180" y1="129.00" x2="690" y2="639.00" stroke="#cccccc"/>
<line x1="180" y1="134.85" x2="690" y2="644.85" stroke="#c0c0c0" stroke-dasharray="3.5 2.2"/>
<line x1="180" y1="140.70" x2="690" y2="650.70" stroke="#cccccc"/>
<line x1="180" y1="146.55" x2="690" y2="656.55" stroke="#c0c0c0" stroke-dasharray="3.5 2.2"/>
<line x1="180" y1="152.40" x2="690" y2="662.40" stroke="#cccccc"/>
<line x1="180" y1="158.25" x2="690" y2="668.25" stroke="#c0c0c0" stroke-dasharray="3.5 2.2"/>
<line x1="180" y1="164.10" x2="690" y2="674.10" stroke="#cccccc"/>
<line x1="180" y1="169.95" x2="690" y2="679.95" stroke="#c0c0c0" stroke-dasharray="3.5 2.2"/>
<line x1="180" y1="175.80" x2="690" y2="685.80" stroke="#cccccc"/>
<line x1="180" y1="181.65" x2="690" y2="691.65" stroke="#c0c0c0" stroke-dasharray="3.5 2.2"/>
<line x1="180" y1="187.50" x2="690" y2="697.50" stroke="#cccccc"/>
<line x1="180" y1="193.35" x2="690" y2="703.35" stroke="#c0c0c0" stroke-dasharray="3.5 2.2"/>
<line x1="180" y1="199.20" x2="690" y2="709.20" stroke="#cccccc"/>
<line x1="180" y1="205.05" x2="690" y2="715.05" stroke="#c0c0c0" stroke-dasharray="3.5 2.2"/>
<line x1="180" y1="210.90" x2="690" y2="720.90" stroke="#cccccc"/>
<line x1="180" y1="216.75" x2="690" y2="726.75" stroke="#c0c0c0" stroke-dasharray="3.5 2.2"/>
<line x1="180" y1="222.60" x2="690" y2="732.60" stroke="#cccccc"/>
<line x1="180" y1="228.45" x2="690" y2="738.45" stroke="#c0c0c0" stroke-dasharray="3.5 2.2"/>
<line x1="180" y1="234.30" x2="690" y2="744.30" stroke="#cccccc"/>
<line x1="180" y1="240.15" x2="690" y2="750.15" stroke="#c0c0c0" stroke-dasharray="3.5 2.2"/>
<line x1="180" y1="246.00" x2="690" y2="756.00" stroke="#cccccc"/>
<line x1="180" y1="251.85" x2="690" y2="761.85" stroke="#c0c0c0" stroke-dasharray="3.5 2.2"/>
<line x1="180" y1="257.70" x2="690" y2="767.70" stroke="#cccccc"/>
<line x1="180" y1="263.55" x2="690" y2="773.55" stroke="#c0c0c0" stroke-dasharray="3.5 2.2"/>
<line x1="180" y1="269.40" x2="690" y2="779.40" stroke="#cccccc"/>
<line x1="180" y1="275.25" x2="690" y2="785.25" stroke="#c0c0c0" stroke-dasharray="3.5 2.2"/>
<line x1="180" y1="281.10" x2="690" y2="791.10" stroke="#cccccc"/>
<line x1="180" y1="286.95" x2="690" y2="796.95" stroke="#c0c0c0" stroke-dasharray="3.5 2.2"/>
<line x1="180" y1="292.80" x2="690" y2="802.80" stroke="#cccccc"/>
<line x1="180" y1="298.65" x2="690" y2="808.65" stroke="#c0c0c0" stroke-dasharray="3.5 2.2"/>
<line x1="180" y1="304.50" x2="690" y2="814.50" stroke="#cccccc"/>
<line x1="180" y1="310.35" x2="690" y2="820.35" stroke="#c0c0c0" stroke-dasharray="3.5 2.2"/>
<line x1="180" y1="316.20" x2="690" y2="826.20" stroke="#cccccc"/>
<line x1="180" y1="322.05" x2="690" y2="832.05" stroke="#c0c0c0" stroke-dasharray="3.5 2.2"/>
<line x1="180" y1="327.90" x2="690" y2="837.90" stroke="#cccccc"/>
<line x1="180" y1="333.75" x2="690" y2="843.75" stroke="#c0c0c0" stroke-dasharray="3.5 2.2"/>
<line x1="180" y1="339.60" x2="690" y2="849.60" stroke="#cccccc"/>
<line x1="180" y1="345.45" x2="690" y2="855.45" stroke="#c0c0c0" stroke-dasharray="3.5 2.2"/>
<line x1="180" y1="351.30" x2="690" y2="861.30" stroke="#cccccc"/>
<line x1="180" y1="357.15" x2="690" y2="867.15" stroke="#c0c0c0" stroke-dasharray="3.5 2.2"/>
<line x1="180" y1="363.00" x2="690" y2="873.00" stroke="#cccccc"/>
<line x1="180" y1="368.85" x2="690" y2="878.85" stroke="#c0c0c0" stroke-dasharray="3.5 2.2"/>
<line x1="180" y1="374.70" x2="690" y2="884.70" stroke="#cccccc"/>
<line x1="180" y1="380.55" x2="690" y2="890.55" stroke="#c0c0c0" stroke-dasharray="3.5 2.2"/>
<line x1="180" y1="386.40" x2="690" y2="896.40" stroke="#cccccc"/>
<line x1="180" y1="392.25" x2="690" y2="902.25" stroke="#c0c0c0" stroke-dasharray="3.5 2.2"/>
<line x1="180" y1="398.10" x2="690" y2="908.10" stroke="#cccccc"/>
<line x1="180" y1="403.95" x2="690" y2="913.95" stroke="#c0c0c0" stroke-dasharray="3.5 2.2"/>
<line x1="180" y1="409.80" x2="690" y2="919.80" stroke="#cccccc"/>
<line x1="180" y1="415.65" x2="690" y2="925.65" stroke="#c0c0c0" stroke-dasharray="3.5 2.2"/>
<line x1="180" y1="421.50" x2="690" y2="931.50" stroke="#cccccc"/>
<line x1="180" y1="427.35" x2="690" y2="937.35" stroke="#c0c0c0" stroke-dasharray="3.5 2.2"/>
<line x1="180" y1="433.20" x2="690" y2="943.20" stroke="#cccccc"/>
<line x1="180" y1="439.05" x2="690" y2="949.05" stroke="#c0c0c0" stroke-dasharray="3.5 2.2"/>
<line x1="180" y1="444.90" x2="690" y2="954.90" stroke="#cccccc"/>
<line x1="180" y1="450.75" x2="690" y2="960.75" stroke="#c0c0c0" stroke-dasharray="3.5 2.2"/>
<line x1="180" y1="456.60" x2="690" y2="966.60" stroke="#cccccc"/>
<line x1="180" y1="462.45" x2="690" y2="972.45" stroke="#c0c0c0" stroke-dasharray="3.5 2.2"/>
<line x1="180" y1="468.30" x2="690" y2="978.30" stroke="#cccccc"/>
<line x1="180" y1="474.15" x2="690" y2="984.15" stroke="#c0c0c0" stroke-dasharray="3.5 2.2"/>
<line x1="180" y1="480.00" x2="690" y2="990.00" stroke="#cccccc"/>
<line x1="180" y1="485.85" x2="690" y2="995.85" stroke="#c0c0c0" stroke-dasharray="3.5 2.2"/>
<line x1="180" y1="491.70" x2="690" y2="1001.70" stroke="#cccccc"/>
<line x1="180" y1="497.55" x2="690" y2="1007.55" stroke="#c0c0c0" stroke-dasharray="3.5 2.2"/>
<line x1="180" y1="503.40" x2="690" y2="1013.40" stroke="#cccccc"/>
<line x1="180" y1="509.25" x2="690" y2="1019.25" stroke="#c0c0c0" stroke-dasharray="3.5 2.2"/>
<line x1="180" y1="515.10" x2="690" y2="1025.10" stroke="#cccccc"/>
<line x1="180" y1="520.95" x2="690" y2="1030.95" stroke="#c0c0c0" stroke-dasharray="3.5 2.2"/>
<line x1="180" y1="526.80" x2="690" y2="1036.80" stroke="#cccccc"/>
<line x1="180" y1="532.65" x2="690" y2="1042.65" stroke="#c0c0c0" stroke-dasharray="3.5 2.2"/>
<line x1="180" y1="538.50" x2="690" y2="1048.50" stroke="#cccccc"/>
<line x1="180" y1="544.35" x2="690" y2="1054.35" stroke="#c0c0c0" stroke-dasharray="3.5 2.2"/>
<line x1="180" y1="550.20" x2="690" y2="1060.20" stroke="#cccccc"/>
<line x1="180" y1="556.05" x2="690" y2="1066.05" stroke="#c0c0c0" stroke-dasharray="3.5 2.2"/>
<line x1="180" y1="561.90" x2="690" y2="1071.90" stroke="#cccccc"/>
<line x1="180" y1="567.75" x2="690" y2="1077.75" stroke="#c0c0c0" stroke-dasharray="3.5 2.2"/>
<line x1="180" y1="573.60" x2="690" y2="1083.60" stroke="#cccccc"/>
<line x1="180" y1="579.45" x2="690" y2="1089.45" stroke="#c0c0c0" stroke-dasharray="3.5 2.2"/>
<line x1="180" y1="585.30" x2="690" y2="1095.30" stroke="#cccccc"/>
<line x1="180" y1="591.15" x2="690" y2="1101.15" stroke="#c0c0c0" stroke-dasharray="3.5 2.2"/>
<line x1="180" y1="597.00" x2="690" y2="1107.00" stroke="#cccccc"/>
<line x1="180" y1="602.85" x2="690" y2="1112.85" stroke="#c0c0c0" stroke-dasharray="3.5 2.2"/>
<line x1="180" y1="608.70" x2="690" y2="1118.70" stroke="#cccccc"/>
<line x1="180" y1="614.55" x2="690" y2="1124.55" stroke="#c0c0c0" stroke-dasharray="3.5 2.2"/>
<line x1="180" y1="620.40" x2="690" y2="1130.40" stroke="#cccccc"/>
<line x1="180" y1="626.25" x2="690" y2="1136.25" stroke="#c0c0c0" stroke-dasharray="3.5 2.2"/>
<line x1="180" y1="632.10" x2="690" y2="1142.10" stroke="#cccccc"/>
<line x1="180" y1="637.95" x2="690" y2="1147.95" stroke="#c0c0c0" stroke-dasharray="3.5 2.2"/>
<line x1="180" y1="643.80" x2="690" y2="1153.80" stroke="#cccccc"/>
<line x1="180" y1="649.65" x2="690" y2="1159.65" stroke="#c0c0c0" stroke-dasharray="3.5 2.2"/>
<line x1="180" y1="655.50" x2="690" y2="1165.50" stroke="#cccccc"/>
<line x1="180" y1="661.35" x2="690" y2="1171.35" stroke="#c0c0c0" stroke-dasharray="3.5 2.2"/>
<line x1="180" y1="667.20" x2="690" y2="1177.20" stroke="#cccccc"/>
<line x1="180" y1="673.05" x2="690" y2="1183.05" stroke="#c0c0c0" stroke-dasharray="3.5 2.2"/>
<line x1="180" y1="678.90" x2="690" y2="1188.90" stroke="#cccccc"/>
<line x1="180" y1="684.75" x2="690" y2="1194.75" stroke="#c0c0c0" stroke-dasharray="3.5 2.2"/>
<line x1="180" y1="690.60" x2="690" y2="1200.60" stroke="#cccccc"/>
<line x1="180" y1="696.45" x2="690" y2="1206.45" stroke="#c0c0c0" stroke-dasharray="3.5 2.2"/>
<line x1="180" y1="702.30" x2="690" y2="1212.30" stroke="#cccccc"/>
<line x1="180" y1="708.15" x2="690" y2="1218.15" stroke="#c0c0c0" stroke-dasharray="3.5 2.2"/>
<line x1="180" y1="714.00" x2="690" y2="1224.00" stroke="#cccccc"/>
<line x1="180" y1="719.85" x2="690" y2="1229.85" stroke="#c0c0c0" stroke-dasharray="3.5 2.2"/>
<line x1="180" y1="725.70" x2="690" y2="1235.70" stroke="#cccccc"/>
<line x1="180" y1="731.55" x2="690" y2="1241.55" stroke="#c0c0c0" stroke-dasharray="3.5 2.2"/>
<line x1="180" y1="737.40" x2="690" y2="1247.40" stroke="#cccccc"/>
<line x1="180" y1="743.25" x2="690" y2="1253.25" stroke="#c0c0c0" stroke-dasharray="3.5 2.2"/>
<line x1="180" y1="749.10" x2="690" y2="1259.10" stroke="#cccccc"/>
<line x1="180" y1="754.95" x2="690" y2="1264.95" stroke="#c0c0c0" stroke-dasharray="3.5 2.2"/>
<line x1="180" y1="760.80" x2="690" y2="1270.80" stroke="#cccccc"/>
<line x1="180" y1="766.65" x2="690" y2="1276.65" stroke="#c0c0c0" stroke-dasharray="3.5 2.2"/>
<line x1="180" y1="772.50" x2="690" y2="1282.50" stroke="#cccccc"/>
<line x1="180" y1="778.35" x2="690" y2="1288.35" stroke="#c0c0c0" stroke-dasharray="3.5 2.2"/>
<line x1="180" y1="784.20" x2="690" y2="1294.20" stroke="#cccccc"/>
</g>
<path d="M141,600 L591,600 C600,600 602,587 614,587 L634,587 C648,587 653,596 653,608 L653,696 C653,706 646,712.5 634,712.5 L614,712.5 C602,712.5 600,702 591,702 L141,702 Z" stroke="none" stroke-width="0" fill="#000" />
<g>
<rect x="166.9" y="521.5" width="1.1" height="1.1" fill="#e6e6e6"/>
<rect x="171.6" y="521.5" width="1.1" height="1.6" fill="#7a7a7a"/>
<rect x="175.9" y="521.5" width="1.1" height="1.1" fill="#e6e6e6"/>
<rect x="179.7" y="521.5" width="1.1" height="1.6" fill="#7a7a7a"/>
<rect x="184.2" y="521.5" width="1.1" height="1.1" fill="#e6e6e6"/>
<rect x="166.9" y="525.6" width="1.1" height="1.6" fill="#7a7a7a"/>
<rect x="171.6" y="525.6" width="1.1" height="1.1" fill="#e6e6e6"/>
<rect x="175.9" y="525.6" width="1.1" height="1.6" fill="#7a7a7a"/>
<rect x="179.7" y="525.6" width="1.1" height="1.1" fill="#e6e6e6"/>
<rect x="184.2" y="525.6" width="1.1" height="1.6" fill="#7a7a7a"/>
<rect x="166.9" y="529.7" width="1.1" height="1.1" fill="#e6e6e6"/>
<rect x="171.6" y="529.7" width="1.1" height="1.6" fill="#7a7a7a"/>
<rect x="175.9" y="529.7" width="1.1" height="1.1" fill="#e6e6e6"/>
<rect x="179.7" y="529.7" width="1.1" height="1.6" fill="#7a7a7a"/>
<rect x="184.2" y="529.7" width="1.1" height="1.1" fill="#e6e6e6"/>
<rect x="166.9" y="533.8" width="1.1" height="1.6" fill="#7a7a7a"/>
<rect x="171.6" y="533.8" width="1.1" height="1.1" fill="#e6e6e6"/>
<rect x="175.9" y="533.8" width="1.1" height="1.6" fill="#7a7a7a"/>
<rect x="179.7" y="533.8" width="1.1" height="1.1" fill="#e6e6e6"/>
<rect x="184.2" y="533.8" width="1.1" height="1.6" fill="#7a7a7a"/>
<rect x="166.9" y="537.9" width="1.1" height="1.1" fill="#e6e6e6"/>
<rect x="171.6" y="537.9" width="1.1" height="1.6" fill="#7a7a7a"/>
<rect x="175.9" y="537.9" width="1.1" height="1.1" fill="#e6e6e6"/>
<rect x="179.7" y="537.9" width="1.1" height="1.6" fill="#7a7a7a"/>
<rect x="184.2" y="537.9" width="1.1" height="1.1" fill="#e6e6e6"/>
<rect x="166.9" y="542.0" width="1.1" height="1.6" fill="#7a7a7a"/>
<rect x="171.6" y="542.0" width="1.1" height="1.1" fill="#e6e6e6"/>
<rect x="175.9" y="542.0" width="1.1" height="1.6" fill="#7a7a7a"/>
<rect x="179.7" y="542.0" width="1.1" height="1.1" fill="#e6e6e6"/>
<rect x="184.2" y="542.0" width="1.1" height="1.6" fill="#7a7a7a"/>
<rect x="166.9" y="546.1" width="1.1" height="1.1" fill="#e6e6e6"/>
<rect x="171.6" y="546.1" width="1.1" height="1.6" fill="#7a7a7a"/>
<rect x="175.9" y="546.1" width="1.1" height="1.1" fill="#e6e6e6"/>
<rect x="179.7" y="546.1" width="1.1" height="1.6" fill="#7a7a7a"/>
<rect x="184.2" y="546.1" width="1.1" height="1.1" fill="#e6e6e6"/>
<rect x="166.9" y="550.2" width="1.1" height="1.6" fill="#7a7a7a"/>
<rect x="171.6" y="550.2" width="1.1" height="1.1" fill="#e6e6e6"/>
<rect x="175.9" y="550.2" width="1.1" height="1.6" fill="#7a7a7a"/>
<rect x="179.7" y="550.2" width="1.1" height="1.1" fill="#e6e6e6"/>
<rect x="184.2" y="550.2" width="1.1" height="1.6" fill="#7a7a7a"/>
<rect x="166.9" y="554.3" width="1.1" height="1.1" fill="#e6e6e6"/>
<rect x="171.6" y="554.3" width="1.1" height="1.6" fill="#7a7a7a"/>
<rect x="175.9" y="554.3" width="1.1" height="1.1" fill="#e6e6e6"/>
<rect x="179.7" y="554.3" width="1.1" height="1.6" fill="#7a7a7a"/>
<rect x="184.2" y="554.3" width="1.1" height="1.1" fill="#e6e6e6"/>
<rect x="166.9" y="558.4" width="1.1" height="1.6" fill="#7a7a7a"/>
<rect x="171.6" y="558.4" width="1.1" height="1.1" fill="#e6e6e6"/>
<rect x="175.9" y="558.4" width="1.1" height="1.6" fill="#7a7a7a"/>
<rect x="179.7" y="558.4" width="1.1" height="1.1" fill="#e6e6e6"/>
<rect x="184.2" y="558.4" width="1.1" height="1.6" fill="#7a7a7a"/>
<rect x="166.9" y="562.5" width="1.1" height="1.1" fill="#e6e6e6"/>
<rect x="171.6" y="562.5" width="1.1" height="1.6" fill="#7a7a7a"/>
<rect x="175.9" y="562.5" width="1.1" height="1.1" fill="#e6e6e6"/>
<rect x="179.7" y="562.5" width="1.1" height="1.6" fill="#7a7a7a"/>
<rect x="184.2" y="562.5" width="1.1" height="1.1" fill="#e6e6e6"/>
<rect x="166.9" y="566.6" width="1.1" height="1.6" fill="#7a7a7a"/>
<rect x="171.6" y="566.6" width="1.1" height="1.1" fill="#e6e6e6"/>
<rect x="175.9" y="566.6" width="1.1" height="1.6" fill="#7a7a7a"/>
<rect x="179.7" y="566.6" width="1.1" height="1.1" fill="#e6e6e6"/>
<rect x="184.2" y="566.6" width="1.1" height="1.6" fill="#7a7a7a"/>
<rect x="166.9" y="570.7" width="1.1" height="1.1" fill="#e6e6e6"/>
<rect x="171.6" y="570.7" width="1.1" height="1.6" fill="#7a7a7a"/>
<rect x="175.9" y="570.7" width="1.1" height="1.1" fill="#e6e6e6"/>
<rect x="179.7" y="570.7" width="1.1" height="1.6" fill="#7a7a7a"/>
<rect x="184.2" y="570.7" width="1.1" height="1.1" fill="#e6e6e6"/>
<rect x="166.9" y="574.8" width="1.1" height="1.6" fill="#7a7a7a"/>
<rect x="171.6" y="574.8" width="1.1" height="1.1" fill="#e6e6e6"/>
<rect x="175.9" y="574.8" width="1.1" height="1.6" fill="#7a7a7a"/>
<rect x="179.7" y="574.8" width="1.1" height="1.1" fill="#e6e6e6"/>
<rect x="184.2" y="574.8" width="1.1" height="1.6" fill="#7a7a7a"/>
<rect x="166.9" y="578.9" width="1.1" height="1.1" fill="#e6e6e6"/>
<rect x="171.6" y="578.9" width="1.1" height="1.6" fill="#7a7a7a"/>
<rect x="175.9" y="578.9" width="1.1" height="1.1" fill="#e6e6e6"/>
<rect x="179.7" y="578.9" width="1.1" height="1.6" fill="#7a7a7a"/>
<rect x="184.2" y="578.9" width="1.1" height="1.1" fill="#e6e6e6"/>
<rect x="166.9" y="583.0" width="1.1" height="1.6" fill="#7a7a7a"/>
<rect x="171.6" y="583.0" width="1.1" height="1.1" fill="#e6e6e6"/>
<rect x="175.9" y="583.0" width="1.1" height="1.6" fill="#7a7a7a"/>
<rect x="179.7" y="583.0" width="1.1" height="1.1" fill="#e6e6e6"/>
<rect x="184.2" y="583.0" width="1.1" height="1.6" fill="#7a7a7a"/>
<rect x="166.9" y="587.1" width="1.1" height="1.1" fill="#e6e6e6"/>
<rect x="171.6" y="587.1" width="1.1" height="1.6" fill="#7a7a7a"/>
<rect x="175.9" y="587.1" width="1.1" height="1.1" fill="#e6e6e6"/>
<rect x="179.7" y="587.1" width="1.1" height="1.6" fill="#7a7a7a"/>
<rect x="184.2" y="587.1" width="1.1" height="1.1" fill="#e6e6e6"/>
<rect x="166.9" y="591.2" width="1.1" height="1.6" fill="#7a7a7a"/>
<rect x="171.6" y="591.2" width="1.1" height="1.1" fill="#e6e6e6"/>
<rect x="175.9" y="591.2" width="1.1" height="1.6" fill="#7a7a7a"/>
<rect x="179.7" y="591.2" width="1.1" height="1.1" fill="#e6e6e6"/>
<rect x="184.2" y="591.2" width="1.1" height="1.6" fill="#7a7a7a"/>
<rect x="166.9" y="595.3" width="1.1" height="1.1" fill="#e6e6e6"/>
<rect x="171.6" y="595.3" width="1.1" height="1.6" fill="#7a7a7a"/>
<rect x="175.9" y="595.3" width="1.1" height="1.1" fill="#e6e6e6"/>
<rect x="179.7" y="595.3" width="1.1" height="1.6" fill="#7a7a7a"/>
<rect x="184.2" y="595.3" width="1.1" height="1.1" fill="#e6e6e6"/>
<rect x="188.2" y="521.0" width="1.1" height="2" fill="#d8d8d8"/>
<rect x="188.2" y="524.5" width="1.1" height="2" fill="#d8d8d8"/>
<rect x="188.2" y="528.0" width="1.1" height="2" fill="#d8d8d8"/>
<rect x="188.2" y="531.5" width="1.1" height="2" fill="#d8d8d8"/>
<rect x="188.2" y="535.0" width="1.1" height="2" fill="#d8d8d8"/>
<rect x="188.2" y="538.5" width="1.1" height="2" fill="#d8d8d8"/>
<rect x="188.2" y="542.0" width="1.1" height="2" fill="#d8d8d8"/>
<rect x="188.2" y="545.5" width="1.1" height="2" fill="#d8d8d8"/>
<rect x="188.2" y="549.0" width="1.1" height="2" fill="#d8d8d8"/>
<rect x="188.2" y="552.5" width="1.1" height="2" fill="#d8d8d8"/>
<rect x="188.2" y="556.0" width="1.1" height="2" fill="#d8d8d8"/>
<rect x="188.2" y="559.5" width="1.1" height="2" fill="#d8d8d8"/>
<rect x="188.2" y="563.0" width="1.1" height="2" fill="#d8d8d8"/>
<rect x="188.2" y="566.5" width="1.1" height="2" fill="#d8d8d8"/>
<rect x="188.2" y="570.0" width="1.1" height="2" fill="#d8d8d8"/>
<rect x="188.2" y="573.5" width="1.1" height="2" fill="#d8d8d8"/>
<rect x="188.2" y="577.0" width="1.1" height="2" fill="#d8d8d8"/>
<rect x="188.2" y="580.5" width="1.1" height="2" fill="#d8d8d8"/>
<rect x="188.2" y="584.0" width="1.1" height="2" fill="#d8d8d8"/>
<rect x="188.2" y="587.5" width="1.1" height="2" fill="#d8d8d8"/>
<rect x="188.2" y="591.0" width="1.1" height="2" fill="#d8d8d8"/>
<rect x="188.2" y="594.5" width="1.1" height="2" fill="#d8d8d8"/>
<rect x="188.2" y="598.0" width="1.1" height="2" fill="#d8d8d8"/>
<rect x="166.9" y="703.5" width="1.1" height="1.1" fill="#e6e6e6"/>
<rect x="171.6" y="703.5" width="1.1" height="1.6" fill="#7a7a7a"/>
<rect x="175.9" y="703.5" width="1.1" height="1.1" fill="#e6e6e6"/>
<rect x="179.7" y="703.5" width="1.1" height="1.6" fill="#7a7a7a"/>
<rect x="184.2" y="703.5" width="1.1" height="1.1" fill="#e6e6e6"/>
<rect x="166.9" y="707.6" width="1.1" height="1.6" fill="#7a7a7a"/>
<rect x="171.6" y="707.6" width="1.1" height="1.1" fill="#e6e6e6"/>
<rect x="175.9" y="707.6" width="1.1" height="1.6" fill="#7a7a7a"/>
<rect x="179.7" y="707.6" width="1.1" height="1.1" fill="#e6e6e6"/>
<rect x="184.2" y="707.6" width="1.1" height="1.6" fill="#7a7a7a"/>
<rect x="166.9" y="711.7" width="1.1" height="1.1" fill="#e6e6e6"/>
<rect x="171.6" y="711.7" width="1.1" height="1.6" fill="#7a7a7a"/>
<rect x="175.9" y="711.7" width="1.1" height="1.1" fill="#e6e6e6"/>
<rect x="179.7" y="711.7" width="1.1" height="1.6" fill="#7a7a7a"/>
<rect x="184.2" y="711.7" width="1.1" height="1.1" fill="#e6e6e6"/>
<rect x="166.9" y="715.8" width="1.1" height="1.6" fill="#7a7a7a"/>
<rect x="171.6" y="715.8" width="1.1" height="1.1" fill="#e6e6e6"/>
<rect x="175.9" y="715.8" width="1.1" height="1.6" fill="#7a7a7a"/>
<rect x="179.7" y="715.8" width="1.1" height="1.1" fill="#e6e6e6"/>
<rect x="184.2" y="715.8" width="1.1" height="1.6" fill="#7a7a7a"/>
<rect x="166.9" y="719.9" width="1.1" height="1.1" fill="#e6e6e6"/>
<rect x="171.6" y="719.9" width="1.1" height="1.6" fill="#7a7a7a"/>
<rect x="175.9" y="719.9" width="1.1" height="1.1" fill="#e6e6e6"/>
<rect x="179.7" y="719.9" width="1.1" height="1.6" fill="#7a7a7a"/>
<rect x="184.2" y="719.9" width="1.1" height="1.1" fill="#e6e6e6"/>
<rect x="166.9" y="724.0" width="1.1" height="1.6" fill="#7a7a7a"/>
<rect x="171.6" y="724.0" width="1.1" height="1.1" fill="#e6e6e6"/>
<rect x="175.9" y="724.0" width="1.1" height="1.6" fill="#7a7a7a"/>
<rect x="179.7" y="724.0" width="1.1" height="1.1" fill="#e6e6e6"/>
<rect x="184.2" y="724.0" width="1.1" height="1.6" fill="#7a7a7a"/>
<rect x="166.9" y="728.1" width="1.1" height="1.1" fill="#e6e6e6"/>
<rect x="171.6" y="728.1" width="1.1" height="1.6" fill="#7a7a7a"/>
<rect x="175.9" y="728.1" width="1.1" height="1.1" fill="#e6e6e6"/>
<rect x="179.7" y="728.1" width="1.1" height="1.6" fill="#7a7a7a"/>
<rect x="184.2" y="728.1" width="1.1" height="1.1" fill="#e6e6e6"/>
<rect x="166.9" y="732.2" width="1.1" height="1.6" fill="#7a7a7a"/>
<rect x="171.6" y="732.2" width="1.1" height="1.1" fill="#e6e6e6"/>
<rect x="175.9" y="732.2" width="1.1" height="1.6" fill="#7a7a7a"/>
<rect x="179.7" y="732.2" width="1.1" height="1.1" fill="#e6e6e6"/>
<rect x="184.2" y="732.2" width="1.1" height="1.6" fill="#7a7a7a"/>
<rect x="166.9" y="736.3" width="1.1" height="1.1" fill="#e6e6e6"/>
<rect x="171.6" y="736.3" width="1.1" height="1.6" fill="#7a7a7a"/>
<rect x="175.9" y="736.3" width="1.1" height="1.1" fill="#e6e6e6"/>
<rect x="179.7" y="736.3" width="1.1" height="1.6" fill="#7a7a7a"/>
<rect x="184.2" y="736.3" width="1.1" height="1.1" fill="#e6e6e6"/>
<rect x="166.9" y="740.4" width="1.1" height="1.6" fill="#7a7a7a"/>
<rect x="171.6" y="740.4" width="1.1" height="1.1" fill="#e6e6e6"/>
<rect x="175.9" y="740.4" width="1.1" height="1.6" fill="#7a7a7a"/>
<rect x="179.7" y="740.4" width="1.1" height="1.1" fill="#e6e6e6"/>
<rect x="184.2" y="740.4" width="1.1" height="1.6" fill="#7a7a7a"/>
<rect x="166.9" y="744.5" width="1.1" height="1.1" fill="#e6e6e6"/>
<rect x="171.6" y="744.5" width="1.1" height="1.6" fill="#7a7a7a"/>
<rect x="175.9" y="744.5" width="1.1" height="1.1" fill="#e6e6e6"/>
<rect x="179.7" y="744.5" width="1.1" height="1.6" fill="#7a7a7a"/>
<rect x="184.2" y="744.5" width="1.1" height="1.1" fill="#e6e6e6"/>
<rect x="166.9" y="748.6" width="1.1" height="1.6" fill="#7a7a7a"/>
<rect x="171.6" y="748.6" width="1.1" height="1.1" fill="#e6e6e6"/>
<rect x="175.9" y="748.6" width="1.1" height="1.6" fill="#7a7a7a"/>
<rect x="179.7" y="748.6" width="1.1" height="1.1" fill="#e6e6e6"/>
<rect x="184.2" y="748.6" width="1.1" height="1.6" fill="#7a7a7a"/>
<rect x="166.9" y="752.7" width="1.1" height="1.1" fill="#e6e6e6"/>
<rect x="171.6" y="752.7" width="1.1" height="1.6" fill="#7a7a7a"/>
<rect x="175.9" y="752.7" width="1.1" height="1.1" fill="#e6e6e6"/>
<rect x="179.7" y="752.7" width="1.1" height="1.6" fill="#7a7a7a"/>
<rect x="184.2" y="752.7" width="1.1" height="1.1" fill="#e6e6e6"/>
<rect x="166.9" y="756.8" width="1.1" height="1.6" fill="#7a7a7a"/>
<rect x="171.6" y="756.8" width="1.1" height="1.1" fill="#e6e6e6"/>
<rect x="175.9" y="756.8" width="1.1" height="1.6" fill="#7a7a7a"/>
<rect x="179.7" y="756.8" width="1.1" height="1.1" fill="#e6e6e6"/>
<rect x="184.2" y="756.8" width="1.1" height="1.6" fill="#7a7a7a"/>
<rect x="166.9" y="760.9" width="1.1" height="1.1" fill="#e6e6e6"/>
<rect x="171.6" y="760.9" width="1.1" height="1.6" fill="#7a7a7a"/>
<rect x="175.9" y="760.9" width="1.1" height="1.1" fill="#e6e6e6"/>
<rect x="179.7" y="760.9" width="1.1" height="1.6" fill="#7a7a7a"/>
<rect x="184.2" y="760.9" width="1.1" height="1.1" fill="#e6e6e6"/>
<rect x="166.9" y="765.0" width="1.1" height="1.6" fill="#7a7a7a"/>
<rect x="171.6" y="765.0" width="1.1" height="1.1" fill="#e6e6e6"/>
<rect x="175.9" y="765.0" width="1.1" height="1.6" fill="#7a7a7a"/>
<rect x="179.7" y="765.0" width="1.1" height="1.1" fill="#e6e6e6"/>
<rect x="184.2" y="765.0" width="1.1" height="1.6" fill="#7a7a7a"/>
<rect x="166.9" y="769.1" width="1.1" height="1.1" fill="#e6e6e6"/>
<rect x="171.6" y="769.1" width="1.1" height="1.6" fill="#7a7a7a"/>
<rect x="175.9" y="769.1" width="1.1" height="1.1" fill="#e6e6e6"/>
<rect x="179.7" y="769.1" width="1.1" height="1.6" fill="#7a7a7a"/>
<rect x="184.2" y="769.1" width="1.1" height="1.1" fill="#e6e6e6"/>
<rect x="166.9" y="773.2" width="1.1" height="1.6" fill="#7a7a7a"/>
<rect x="171.6" y="773.2" width="1.1" height="1.1" fill="#e6e6e6"/>
<rect x="175.9" y="773.2" width="1.1" height="1.6" fill="#7a7a7a"/>
<rect x="179.7" y="773.2" width="1.1" height="1.1" fill="#e6e6e6"/>
<rect x="184.2" y="773.2" width="1.1" height="1.6" fill="#7a7a7a"/>
<rect x="166.9" y="777.3" width="1.1" height="1.1" fill="#e6e6e6"/>
<rect x="171.6" y="777.3" width="1.1" height="1.6" fill="#7a7a7a"/>
<rect x="175.9" y="777.3" width="1.1" height="1.1" fill="#e6e6e6"/>
<rect x="179.7" y="777.3" width="1.1" height="1.6" fill="#7a7a7a"/>
<rect x="184.2" y="777.3" width="1.1" height="1.1" fill="#e6e6e6"/>
<rect x="188.2" y="703.0" width="1.1" height="2" fill="#d8d8d8"/>
<rect x="188.2" y="706.5" width="1.1" height="2" fill="#d8d8d8"/>
<rect x="188.2" y="710.0" width="1.1" height="2" fill="#d8d8d8"/>
<rect x="188.2" y="713.5" width="1.1" height="2" fill="#d8d8d8"/>
<rect x="188.2" y="717.0" width="1.1" height="2" fill="#d8d8d8"/>
<rect x="188.2" y="720.5" width="1.1" height="2" fill="#d8d8d8"/>
<rect x="188.2" y="724.0" width="1.1" height="2" fill="#d8d8d8"/>
<rect x="188.2" y="727.5" width="1.1" height="2" fill="#d8d8d8"/>
<rect x="188.2" y="731.0" width="1.1" height="2" fill="#d8d8d8"/>
<rect x="188.2" y="734.5" width="1.1" height="2" fill="#d8d8d8"/>
<rect x="188.2" y="738.0" width="1.1" height="2" fill="#d8d8d8"/>
<rect x="188.2" y="741.5" width="1.1" height="2" fill="#d8d8d8"/>
<rect x="188.2" y="745.0" width="1.1" height="2" fill="#d8d8d8"/>
<rect x="188.2" y="748.5" width="1.1" height="2" fill="#d8d8d8"/>
<rect x="188.2" y="752.0" width="1.1" height="2" fill="#d8d8d8"/>
<rect x="188.2" y="755.5" width="1.1" height="2" fill="#d8d8d8"/>
<rect x="188.2" y="759.0" width="1.1" height="2" fill="#d8d8d8"/>
<rect x="188.2" y="762.5" width="1.1" height="2" fill="#d8d8d8"/>
<rect x="188.2" y="766.0" width="1.1" height="2" fill="#d8d8d8"/>
<rect x="188.2" y="769.5" width="1.1" height="2" fill="#d8d8d8"/>
<rect x="188.2" y="773.0" width="1.1" height="2" fill="#d8d8d8"/>
<rect x="188.2" y="776.5" width="1.1" height="2" fill="#d8d8d8"/>
<rect x="188.2" y="780.0" width="1.1" height="2" fill="#d8d8d8"/>
</g>
<line x1="164.50" y1="520.00" x2="164.50" y2="599.50" stroke="#ffffff" stroke-width="1" />
<line x1="164.50" y1="702.00" x2="164.50" y2="781.50" stroke="#ffffff" stroke-width="1" />
<path d="M33,520.5 L107.3,520.5 L111.5,534.5 L111.5,507 L117,520.5 L201,520.5" stroke="#ffffff" stroke-width="1" fill="none" />
<path d="M31.5,781.5 L107.3,781.5 L111.5,795.5 L111.5,768 L117,781.5 L205,781.5" stroke="#ffffff" stroke-width="1" fill="none" />
<line x1="44.50" y1="520.00" x2="44.50" y2="782.00" stroke="#d8d8d8" stroke-width="1" />
<path d="M141,600 L591,600 C600,600 602,587 614,587 L634,587 C648,587 653,596 653,608 L653,696 C653,706 646,712.5 634,712.5 L614,712.5 C602,712.5 600,702 591,702 L141,702 Z" stroke="#ffffff" stroke-width="2" fill="none" />
<line x1="19.00" y1="473.50" x2="76.00" y2="473.50" stroke="#2828c4" stroke-width="1" />
<path d="M44.00,473.50 L31.00,475.80 L31.00,471.20 Z" fill="#2a2aff"/>
<path d="M53.00,473.50 L66.00,471.20 L66.00,475.80 Z" fill="#2a2aff"/>
<line x1="44.00" y1="467.00" x2="44.00" y2="516.00" stroke="#2828c4" stroke-width="1" />
<line x1="53.00" y1="467.00" x2="53.00" y2="596.00" stroke="#2828c4" stroke-width="1" />
<text transform="translate(56.00,459.50) rotate(-90)" font-size="19" fill="#2424b0" stroke="#000" stroke-width="0.6" text-anchor="start" textLength="34" lengthAdjust="spacingAndGlyphs">5cm</text>
<line x1="121.00" y1="473.50" x2="210.00" y2="473.50" stroke="#2828c4" stroke-width="1" />
<path d="M142.00,473.50 L129.00,475.80 L129.00,471.20 Z" fill="#2a2aff"/>
<path d="M188.00,473.50 L201.00,471.20 L201.00,475.80 Z" fill="#2a2aff"/>
<circle cx="165" cy="473.5" r="1.8" fill="#2828c4"/>
<line x1="142.00" y1="468.50" x2="142.00" y2="595.00" stroke="#2828c4" stroke-width="1" />
<line x1="165.00" y1="468.50" x2="165.00" y2="514.00" stroke="#2828c4" stroke-width="1" />
<line x1="188.00" y1="468.50" x2="188.00" y2="514.00" stroke="#2828c4" stroke-width="1" />
<text transform="translate(160.00,465.00) rotate(-90)" font-size="20" fill="#2424b0" stroke="#000" stroke-width="0.6" text-anchor="start" textLength="40.5" lengthAdjust="spacingAndGlyphs">15cm</text>
<text transform="translate(183.30,466.50) rotate(-90)" font-size="20" fill="#2424b0" stroke="#000" stroke-width="0.6" text-anchor="start" textLength="40.5" lengthAdjust="spacingAndGlyphs">15cm</text>
<line x1="0.00" y1="557.00" x2="84.00" y2="568.50" stroke="#2828c4" stroke-width="1" />
<circle cx="84" cy="568.5" r="1.8" fill="#2828c4"/>
<text transform="translate(9.50,545.00) rotate(-90)" font-size="19" fill="#2424b0" stroke="#000" stroke-width="0.6" text-anchor="start" textLength="80" lengthAdjust="spacingAndGlyphs">encepado</text>
<text transform="translate(237.50,527.00) rotate(-90)" font-size="20" fill="#2424b0" stroke="#000" stroke-width="0.6" text-anchor="start" textLength="107" lengthAdjust="spacingAndGlyphs">Hormigon de</text>
<text transform="translate(257.50,529.00) rotate(-90)" font-size="20" fill="#2424b0" stroke="#000" stroke-width="0.6" text-anchor="start" textLength="103" lengthAdjust="spacingAndGlyphs">limpieza del</text>
<text transform="translate(279.50,527.50) rotate(-90)" font-size="20" fill="#2424b0" stroke="#000" stroke-width="0.6" text-anchor="start" textLength="146" lengthAdjust="spacingAndGlyphs">futuro encepado</text>
<path d="M240,514 L240,535 L177,557" stroke="#2828c4" stroke-width="1" fill="none" />
<line x1="0.00" y1="747.30" x2="142.00" y2="747.30" stroke="#2828c4" stroke-width="1" />
<path d="M44.00,747.30 L31.00,749.60 L31.00,745.00 Z" fill="#2a2aff"/>
<path d="M53.50,747.30 L66.50,745.00 L66.50,749.60 Z" fill="#2a2aff"/>
<path d="M142.00,747.30 L129.00,749.60 L129.00,745.00 Z" fill="#2a2aff"/>
<line x1="53.50" y1="709.00" x2="53.50" y2="753.00" stroke="#2828c4" stroke-width="1" />
<line x1="142.00" y1="709.00" x2="142.00" y2="753.00" stroke="#2828c4" stroke-width="1" />
<text transform="translate(86.50,775.00) rotate(-90)" font-size="16" fill="#1e1e98" text-anchor="start" textLength="23" lengthAdjust="spacingAndGlyphs">&#8805;D</text>
<text transform="translate(111.50,777.50) rotate(-90)" font-size="16" fill="#1e1e98" text-anchor="start" textLength="24" lengthAdjust="spacingAndGlyphs">&#8805;Lb</text>
<text transform="translate(8.00,766.00) rotate(-90)" font-size="14" fill="#1e1e98" text-anchor="start">x</text>
<text transform="translate(711.00,690.00) rotate(-90)" font-size="20" fill="#2424b0" stroke="#000" stroke-width="0.6" text-anchor="start" textLength="66" lengthAdjust="spacingAndGlyphs">ALZADO</text>
<line x1="451.50" y1="722.50" x2="451.50" y2="769.60" stroke="#2828c4" stroke-width="1" />
<line x1="496.40" y1="722.50" x2="496.40" y2="769.60" stroke="#2828c4" stroke-width="1" />
<line x1="451.50" y1="764.70" x2="496.40" y2="764.70" stroke="#2828c4" stroke-width="1" />
<path d="M452.00,764.70 L464.00,762.40 L464.00,767.00 Z" fill="#2a2aff"/>
<path d="M495.90,764.70 L483.90,767.00 L483.90,762.40 Z" fill="#2a2aff"/>
<text transform="translate(479.95,778.00) rotate(-90)" font-size="16" fill="#1e1e98" text-anchor="start">s</text>
<defs><clipPath id="solidA"><rect x="53" y="0" width="800" height="800"/></clipPath><clipPath id="dashA"><rect x="0" y="0" width="53" height="800"/></clipPath></defs>
<g clip-path="url(#solidA)"><path d="M-10.30,223.68 L6.72,305.08 A3.4,3.4 0 0 0 13.27,305.11 L31.30,223.65 A2.8,2.8 0 0 1 36.71,223.71 L52.71,305.04 A3.4,3.4 0 0 0 59.26,305.15 L78.31,223.62 A2.8,2.8 0 0 1 83.70,223.65 L101.73,305.11 A3.4,3.4 0 0 0 108.28,305.10 L125.80,223.66 A2.8,2.8 0 0 1 131.20,223.66 L148.72,305.10 A3.4,3.4 0 0 0 155.26,305.17 L174.82,223.60 A2.8,2.8 0 0 1 180.22,223.72 L195.70,305.02 A3.4,3.4 0 0 0 202.26,305.15 L221.31,223.62 A2.8,2.8 0 0 1 226.72,223.72 L242.20,305.02 A3.4,3.4 0 0 0 248.76,305.15 L267.81,223.62 A2.8,2.8 0 0 1 273.20,223.66 L290.72,305.10 A3.4,3.4 0 0 0 297.28,305.10 L314.80,223.66 A2.8,2.8 0 0 1 320.20,223.68 L337.22,305.08 A3.4,3.4 0 0 0 343.76,305.17 L363.32,223.60 A2.8,2.8 0 0 1 368.71,223.71 L384.71,305.04 A3.4,3.4 0 0 0 391.27,305.13 L409.81,223.63 A2.8,2.8 0 0 1 415.20,223.68 L432.22,305.08 A3.4,3.4 0 0 0 438.77,305.13 L457.31,223.63 A2.8,2.8 0 0 1 462.71,223.69 L479.21,305.06 A3.4,3.4 0 0 0 485.76,305.15 L504.81,223.62 A2.8,2.8 0 0 1 510.20,223.68 L527.22,305.08 A3.4,3.4 0 0 0 533.77,305.13 L552.31,223.63 A2.8,2.8 0 0 1 557.70,223.68 L574.72,305.08 A3.4,3.4 0 0 0 581.36,304.71 L588.23,223.98" stroke="#d0d0d0" stroke-width="4.6" fill="none" stroke-linejoin="round"/><path d="M-10.30,223.68 L6.72,305.08 A3.4,3.4 0 0 0 13.27,305.11 L31.30,223.65 A2.8,2.8 0 0 1 36.71,223.71 L52.71,305.04 A3.4,3.4 0 0 0 59.26,305.15 L78.31,223.62 A2.8,2.8 0 0 1 83.70,223.65 L101.73,305.11 A3.4,3.4 0 0 0 108.28,305.10 L125.80,223.66 A2.8,2.8 0 0 1 131.20,223.66 L148.72,305.10 A3.4,3.4 0 0 0 155.26,305.17 L174.82,223.60 A2.8,2.8 0 0 1 180.22,223.72 L195.70,305.02 A3.4,3.4 0 0 0 202.26,305.15 L221.31,223.62 A2.8,2.8 0 0 1 226.72,223.72 L242.20,305.02 A3.4,3.4 0 0 0 248.76,305.15 L267.81,223.62 A2.8,2.8 0 0 1 273.20,223.66 L290.72,305.10 A3.4,3.4 0 0 0 297.28,305.10 L314.80,223.66 A2.8,2.8 0 0 1 320.20,223.68 L337.22,305.08 A3.4,3.4 0 0 0 343.76,305.17 L363.32,223.60 A2.8,2.8 0 0 1 368.71,223.71 L384.71,305.04 A3.4,3.4 0 0 0 391.27,305.13 L409.81,223.63 A2.8,2.8 0 0 1 415.20,223.68 L432.22,305.08 A3.4,3.4 0 0 0 438.77,305.13 L457.31,223.63 A2.8,2.8 0 0 1 462.71,223.69 L479.21,305.06 A3.4,3.4 0 0 0 485.76,305.15 L504.81,223.62 A2.8,2.8 0 0 1 510.20,223.68 L527.22,305.08 A3.4,3.4 0 0 0 533.77,305.13 L552.31,223.63 A2.8,2.8 0 0 1 557.70,223.68 L574.72,305.08 A3.4,3.4 0 0 0 581.36,304.71 L588.23,223.98" stroke="#000" stroke-width="2.6" fill="none" stroke-linejoin="round"/></g>
<g clip-path="url(#dashA)"><path d="M-10.30,223.68 L6.72,305.08 A3.4,3.4 0 0 0 13.27,305.11 L31.30,223.65 A2.8,2.8 0 0 1 36.71,223.71 L52.71,305.04 A3.4,3.4 0 0 0 59.26,305.15 L78.31,223.62 A2.8,2.8 0 0 1 83.70,223.65 L101.73,305.11 A3.4,3.4 0 0 0 108.28,305.10 L125.80,223.66 A2.8,2.8 0 0 1 131.20,223.66 L148.72,305.10 A3.4,3.4 0 0 0 155.26,305.17 L174.82,223.60 A2.8,2.8 0 0 1 180.22,223.72 L195.70,305.02 A3.4,3.4 0 0 0 202.26,305.15 L221.31,223.62 A2.8,2.8 0 0 1 226.72,223.72 L242.20,305.02 A3.4,3.4 0 0 0 248.76,305.15 L267.81,223.62 A2.8,2.8 0 0 1 273.20,223.66 L290.72,305.10 A3.4,3.4 0 0 0 297.28,305.10 L314.80,223.66 A2.8,2.8 0 0 1 320.20,223.68 L337.22,305.08 A3.4,3.4 0 0 0 343.76,305.17 L363.32,223.60 A2.8,2.8 0 0 1 368.71,223.71 L384.71,305.04 A3.4,3.4 0 0 0 391.27,305.13 L409.81,223.63 A2.8,2.8 0 0 1 415.20,223.68 L432.22,305.08 A3.4,3.4 0 0 0 438.77,305.13 L457.31,223.63 A2.8,2.8 0 0 1 462.71,223.69 L479.21,305.06 A3.4,3.4 0 0 0 485.76,305.15 L504.81,223.62 A2.8,2.8 0 0 1 510.20,223.68 L527.22,305.08 A3.4,3.4 0 0 0 533.77,305.13 L552.31,223.63 A2.8,2.8 0 0 1 557.70,223.68 L574.72,305.08 A3.4,3.4 0 0 0 581.36,304.71 L588.23,223.98" stroke="#d0d0d0" stroke-width="4.6" fill="none" stroke-linejoin="round" stroke-dasharray="11 2.5"/><path d="M-10.30,223.68 L6.72,305.08 A3.4,3.4 0 0 0 13.27,305.11 L31.30,223.65 A2.8,2.8 0 0 1 36.71,223.71 L52.71,305.04 A3.4,3.4 0 0 0 59.26,305.15 L78.31,223.62 A2.8,2.8 0 0 1 83.70,223.65 L101.73,305.11 A3.4,3.4 0 0 0 108.28,305.10 L125.80,223.66 A2.8,2.8 0 0 1 131.20,223.66 L148.72,305.10 A3.4,3.4 0 0 0 155.26,305.17 L174.82,223.60 A2.8,2.8 0 0 1 180.22,223.72 L195.70,305.02 A3.4,3.4 0 0 0 202.26,305.15 L221.31,223.62 A2.8,2.8 0 0 1 226.72,223.72 L242.20,305.02 A3.4,3.4 0 0 0 248.76,305.15 L267.81,223.62 A2.8,2.8 0 0 1 273.20,223.66 L290.72,305.10 A3.4,3.4 0 0 0 297.28,305.10 L314.80,223.66 A2.8,2.8 0 0 1 320.20,223.68 L337.22,305.08 A3.4,3.4 0 0 0 343.76,305.17 L363.32,223.60 A2.8,2.8 0 0 1 368.71,223.71 L384.71,305.04 A3.4,3.4 0 0 0 391.27,305.13 L409.81,223.63 A2.8,2.8 0 0 1 415.20,223.68 L432.22,305.08 A3.4,3.4 0 0 0 438.77,305.13 L457.31,223.63 A2.8,2.8 0 0 1 462.71,223.69 L479.21,305.06 A3.4,3.4 0 0 0 485.76,305.15 L504.81,223.62 A2.8,2.8 0 0 1 510.20,223.68 L527.22,305.08 A3.4,3.4 0 0 0 533.77,305.13 L552.31,223.63 A2.8,2.8 0 0 1 557.70,223.68 L574.72,305.08 A3.4,3.4 0 0 0 581.36,304.71 L588.23,223.98" stroke="#000" stroke-width="2.6" fill="none" stroke-linejoin="round"/></g>
<line x1="54.00" y1="222.50" x2="602.00" y2="222.50" stroke="#d0d0d0" stroke-width="1" />
<line x1="0.00" y1="222.50" x2="53.00" y2="222.50" stroke="#d0d0d0" stroke-width="1" stroke-dasharray="9.5 2.5"/>
<line x1="54.00" y1="226.80" x2="602.00" y2="226.80" stroke="#d0d0d0" stroke-width="1" />
<line x1="0.00" y1="226.80" x2="53.00" y2="226.80" stroke="#d0d0d0" stroke-width="1" stroke-dasharray="9.5 2.5"/>
<line x1="54.00" y1="222.50" x2="54.00" y2="226.80" stroke="#d0d0d0" stroke-width="1" />
<line x1="602.00" y1="222.50" x2="602.00" y2="226.80" stroke="#d0d0d0" stroke-width="1" />
<line x1="54.00" y1="246.00" x2="602.00" y2="246.00" stroke="#d0d0d0" stroke-width="1" />
<line x1="0.00" y1="246.00" x2="53.00" y2="246.00" stroke="#d0d0d0" stroke-width="1" stroke-dasharray="9.5 2.5"/>
<line x1="54.00" y1="249.00" x2="602.00" y2="249.00" stroke="#d0d0d0" stroke-width="1" />
<line x1="0.00" y1="249.00" x2="53.00" y2="249.00" stroke="#d0d0d0" stroke-width="1" stroke-dasharray="9.5 2.5"/>
<line x1="54.00" y1="246.00" x2="54.00" y2="249.00" stroke="#d0d0d0" stroke-width="1" />
<line x1="602.00" y1="246.00" x2="602.00" y2="249.00" stroke="#d0d0d0" stroke-width="1" />
<line x1="54.00" y1="281.30" x2="602.00" y2="281.30" stroke="#d0d0d0" stroke-width="1" />
<line x1="0.00" y1="281.30" x2="53.00" y2="281.30" stroke="#d0d0d0" stroke-width="1" stroke-dasharray="9.5 2.5"/>
<line x1="54.00" y1="284.60" x2="602.00" y2="284.60" stroke="#d0d0d0" stroke-width="1" />
<line x1="0.00" y1="284.60" x2="53.00" y2="284.60" stroke="#d0d0d0" stroke-width="1" stroke-dasharray="9.5 2.5"/>
<line x1="54.00" y1="281.30" x2="54.00" y2="284.60" stroke="#d0d0d0" stroke-width="1" />
<line x1="602.00" y1="281.30" x2="602.00" y2="284.60" stroke="#d0d0d0" stroke-width="1" />
<line x1="54.00" y1="303.60" x2="602.00" y2="303.60" stroke="#d0d0d0" stroke-width="1" />
<line x1="0.00" y1="303.60" x2="53.00" y2="303.60" stroke="#d0d0d0" stroke-width="1" stroke-dasharray="9.5 2.5"/>
<line x1="54.00" y1="306.90" x2="602.00" y2="306.90" stroke="#d0d0d0" stroke-width="1" />
<line x1="0.00" y1="306.90" x2="53.00" y2="306.90" stroke="#d0d0d0" stroke-width="1" stroke-dasharray="9.5 2.5"/>
<line x1="54.00" y1="303.60" x2="54.00" y2="306.90" stroke="#d0d0d0" stroke-width="1" />
<line x1="602.00" y1="303.60" x2="602.00" y2="306.90" stroke="#d0d0d0" stroke-width="1" />
<line x1="592.00" y1="222.50" x2="592.00" y2="308.50" stroke="#d0d0d0" stroke-width="1" />
<line x1="595.50" y1="222.50" x2="595.50" y2="308.50" stroke="#d0d0d0" stroke-width="1" />
<line x1="152.00" y1="222.50" x2="152.00" y2="306.90" stroke="#d0d0d0" stroke-width="1" />
<line x1="155.60" y1="222.50" x2="155.60" y2="306.90" stroke="#d0d0d0" stroke-width="1" />
<line x1="55.00" y1="609.20" x2="602.00" y2="609.20" stroke="#d0d0d0" stroke-width="1" />
<line x1="0.00" y1="609.20" x2="54.00" y2="609.20" stroke="#d0d0d0" stroke-width="1" stroke-dasharray="9.5 2.5"/>
<line x1="55.00" y1="612.90" x2="602.00" y2="612.90" stroke="#d0d0d0" stroke-width="1" />
<line x1="0.00" y1="612.90" x2="54.00" y2="612.90" stroke="#d0d0d0" stroke-width="1" stroke-dasharray="9.5 2.5"/>
<line x1="602.00" y1="609.20" x2="602.00" y2="612.90" stroke="#d0d0d0" stroke-width="1" />
<line x1="55.00" y1="631.50" x2="602.00" y2="631.50" stroke="#d0d0d0" stroke-width="1" />
<line x1="0.00" y1="631.50" x2="54.00" y2="631.50" stroke="#d0d0d0" stroke-width="1" stroke-dasharray="9.5 2.5"/>
<line x1="55.00" y1="635.20" x2="602.00" y2="635.20" stroke="#d0d0d0" stroke-width="1" />
<line x1="0.00" y1="635.20" x2="54.00" y2="635.20" stroke="#d0d0d0" stroke-width="1" stroke-dasharray="9.5 2.5"/>
<line x1="602.00" y1="631.50" x2="602.00" y2="635.20" stroke="#d0d0d0" stroke-width="1" />
<line x1="55.00" y1="666.80" x2="602.00" y2="666.80" stroke="#d0d0d0" stroke-width="1" />
<line x1="0.00" y1="666.80" x2="54.00" y2="666.80" stroke="#d0d0d0" stroke-width="1" stroke-dasharray="9.5 2.5"/>
<line x1="55.00" y1="670.40" x2="602.00" y2="670.40" stroke="#d0d0d0" stroke-width="1" />
<line x1="0.00" y1="670.40" x2="54.00" y2="670.40" stroke="#d0d0d0" stroke-width="1" stroke-dasharray="9.5 2.5"/>
<line x1="602.00" y1="666.80" x2="602.00" y2="670.40" stroke="#d0d0d0" stroke-width="1" />
<line x1="55.00" y1="689.60" x2="602.00" y2="689.60" stroke="#d0d0d0" stroke-width="1" />
<line x1="0.00" y1="689.60" x2="54.00" y2="689.60" stroke="#d0d0d0" stroke-width="1" stroke-dasharray="9.5 2.5"/>
<line x1="55.00" y1="693.30" x2="602.00" y2="693.30" stroke="#d0d0d0" stroke-width="1" />
<line x1="0.00" y1="693.30" x2="54.00" y2="693.30" stroke="#d0d0d0" stroke-width="1" stroke-dasharray="9.5 2.5"/>
<line x1="602.00" y1="689.60" x2="602.00" y2="693.30" stroke="#d0d0d0" stroke-width="1" />
<rect x="3.75" y="606.7" width="3" height="88.7" rx="1.5" fill="#000" stroke="#d0d0d0" stroke-width="1" stroke-dasharray="7 3"/>
<path d="M6.75,607.5 L9.35,607.5 L9.35,626 L6.75,626" fill="#000" stroke="#d0d0d0" stroke-width="1" stroke-dasharray="7 3"/>
<rect x="55.90" y="606.7" width="3" height="88.7" rx="1.5" fill="#000" stroke="#d0d0d0" stroke-width="1" stroke-dasharray="7 3"/>
<path d="M55.90,676 L53.30,676 L53.30,694.5 L55.90,694.5" fill="#000" stroke="#d0d0d0" stroke-width="1" stroke-dasharray="7 3"/>
<rect x="104.40" y="606.7" width="3" height="88.7" rx="1.5" fill="#000" stroke="#d0d0d0" stroke-width="1" stroke-dasharray="7 3"/>
<path d="M104.40,676 L101.80,676 L101.80,694.5 L104.40,694.5" fill="#000" stroke="#d0d0d0" stroke-width="1" stroke-dasharray="7 3"/>
<rect x="151.25" y="606.7" width="3" height="88.7" rx="1.5" fill="#000" stroke="#d0d0d0" stroke-width="1" />
<path d="M154.25,607.5 L156.85,607.5 L156.85,626 L154.25,626" fill="#000" stroke="#d0d0d0" stroke-width="1" />
<rect x="199.75" y="606.7" width="3" height="88.7" rx="1.5" fill="#000" stroke="#d0d0d0" stroke-width="1" />
<path d="M202.75,607.5 L205.35,607.5 L205.35,626 L202.75,626" fill="#000" stroke="#d0d0d0" stroke-width="1" />
<rect x="251.50" y="606.7" width="3" height="88.7" rx="1.5" fill="#000" stroke="#d0d0d0" stroke-width="1" />
<path d="M251.50,676 L248.90,676 L248.90,694.5 L251.50,694.5" fill="#000" stroke="#d0d0d0" stroke-width="1" />
<rect x="300.60" y="606.7" width="3" height="88.7" rx="1.5" fill="#000" stroke="#d0d0d0" stroke-width="1" />
<path d="M300.60,676 L298.00,676 L298.00,694.5 L300.60,694.5" fill="#000" stroke="#d0d0d0" stroke-width="1" />
<rect x="347.50" y="606.7" width="3" height="88.7" rx="1.5" fill="#000" stroke="#d0d0d0" stroke-width="1" />
<path d="M350.50,607.5 L353.10,607.5 L353.10,626 L350.50,626" fill="#000" stroke="#d0d0d0" stroke-width="1" />
<rect x="396.20" y="606.7" width="3" height="88.7" rx="1.5" fill="#000" stroke="#d0d0d0" stroke-width="1" />
<path d="M399.20,607.5 L401.80,607.5 L401.80,626 L399.20,626" fill="#000" stroke="#d0d0d0" stroke-width="1" />
<rect x="448.70" y="606.7" width="3" height="88.7" rx="1.5" fill="#000" stroke="#d0d0d0" stroke-width="1" />
<path d="M448.70,676 L446.10,676 L446.10,694.5 L448.70,694.5" fill="#000" stroke="#d0d0d0" stroke-width="1" />
<rect x="497.60" y="606.7" width="3" height="88.7" rx="1.5" fill="#000" stroke="#d0d0d0" stroke-width="1" />
<path d="M497.60,676 L495.00,676 L495.00,694.5 L497.60,694.5" fill="#000" stroke="#d0d0d0" stroke-width="1" />
<rect x="544.20" y="606.7" width="3" height="88.7" rx="1.5" fill="#000" stroke="#d0d0d0" stroke-width="1" />
<path d="M547.20,607.5 L549.80,607.5 L549.80,626 L547.20,626" fill="#000" stroke="#d0d0d0" stroke-width="1" />
<rect x="593.80" y="606.7" width="3" height="88.7" rx="1.5" fill="#000" stroke="#d0d0d0" stroke-width="1" />
<path d="M596.80,607.5 L599.40,607.5 L599.40,626 L596.80,626" fill="#000" stroke="#d0d0d0" stroke-width="1" />
<path d="M266.0,214.0 L272.0,214.0 L269.0,221.0 Z" fill="#ffffff"/>
<path d="M409.0,214.0 L415.0,214.0 L412.0,221.0 Z" fill="#ffffff"/>
<path d="M549.0,214.0 L555.0,214.0 L552.0,221.0 Z" fill="#ffffff"/>
<path d="M291.0,316.0 L297.0,316.0 L294.0,309.0 Z" fill="#ffffff"/>
<path d="M434.0,316.0 L440.0,316.0 L437.0,309.0 Z" fill="#ffffff"/>
<path d="M574.0,316.0 L580.0,316.0 L577.0,309.0 Z" fill="#ffffff"/>
<path d="M198.0,600.0 L204.0,600.0 L201.0,607.0 Z" fill="#ffffff"/>
<path d="M395.0,600.0 L401.0,600.0 L398.0,607.0 Z" fill="#ffffff"/>
<path d="M542.0,600.0 L548.0,600.0 L545.0,607.0 Z" fill="#ffffff"/>
<path d="M197.0,701.5 L203.0,701.5 L200.0,694.5 Z" fill="#ffffff"/>
<path d="M394.0,701.5 L400.0,701.5 L397.0,694.5 Z" fill="#ffffff"/>
<path d="M542.0,701.5 L548.0,701.5 L545.0,694.5 Z" fill="#ffffff"/>
<text transform="translate(326.80,160.50) rotate(-90)" font-size="18" fill="#2424b0" stroke="#000" stroke-width="0.6" text-anchor="start" textLength="14.5" lengthAdjust="spacingAndGlyphs">&#216;</text>
<text transform="translate(334.00,145.50) rotate(-90)" font-size="17" fill="#2424b0" stroke="#000" stroke-width="0.6" text-anchor="start">1</text>
<path d="M324,162 C325,190 327,215 331,245" stroke="#2828c4" stroke-width="1" fill="none" />
<text transform="translate(424.00,155.50) rotate(-90)" font-size="19" fill="#2424b0" stroke="#000" stroke-width="0.6" text-anchor="start" textLength="85" lengthAdjust="spacingAndGlyphs">Separador</text>
<path d="M416,156 L414.5,175 L403,212" stroke="#2828c4" stroke-width="1" fill="none" />
<text transform="translate(470.00,187.00) rotate(-90)" font-size="15" fill="#1e1e98" text-anchor="start">r1</text>
<line x1="469.50" y1="170.00" x2="469.50" y2="212.00" stroke="#2828c4" stroke-width="1" />
<line x1="471.00" y1="219.70" x2="495.00" y2="219.70" stroke="#909090" stroke-width="1" />
<line x1="469.50" y1="214.00" x2="469.50" y2="234.00" stroke="#b0b0b0" stroke-width="1" />
<rect x="468.3" y="224" width="2.4" height="7" fill="#c0c0c0"/>
<path d="M355,272 C360,295 370,330 373,360 L373,383.5" stroke="#2828c4" stroke-width="1" fill="none" />
<path d="M355.00,272.00 L359.31,281.15 L356.44,282.01 Z" fill="#2a2aff"/>
<text transform="translate(380.50,415.50) rotate(-90)" font-size="21" fill="#2424b0" stroke="#000" stroke-width="0.6" text-anchor="start" textLength="16" lengthAdjust="spacingAndGlyphs">&#216;</text>
<text transform="translate(384.50,401.00) rotate(-90)" font-size="15" fill="#1e1e98" text-anchor="start">2</text>
<text transform="translate(328.00,548.00) rotate(-90)" font-size="19" fill="#2424b0" stroke="#000" stroke-width="0.6" text-anchor="start" textLength="16.4" lengthAdjust="spacingAndGlyphs">&#216;</text>
<text transform="translate(334.00,531.50) rotate(-90)" font-size="18" fill="#2424b0" stroke="#000" stroke-width="0.6" text-anchor="start">1</text>
<line x1="322.50" y1="548.00" x2="322.50" y2="630.00" stroke="#2828c4" stroke-width="1" />
<text transform="translate(424.00,540.50) rotate(-90)" font-size="19" fill="#2424b0" stroke="#000" stroke-width="0.6" text-anchor="start" textLength="85" lengthAdjust="spacingAndGlyphs">Separador</text>
<path d="M416,541 L416,560 L397.5,598" stroke="#2828c4" stroke-width="1" fill="none" />
<text transform="translate(460.00,571.00) rotate(-90)" font-size="15" fill="#1e1e98" text-anchor="start">r1</text>
<line x1="462.00" y1="547.50" x2="462.00" y2="623.00" stroke="#2828c4" stroke-width="1" />
<line x1="458.00" y1="606.40" x2="486.00" y2="606.40" stroke="#2828c4" stroke-width="1" />
<path d="M462.00,606.60 L463.50,615.60 L460.50,615.60 Z" fill="#2a2aff"/>
<path d="M350,657.5 L373,744 L447.5,652.5" stroke="#2828c4" stroke-width="1" fill="none" />
<path d="M350.00,657.50 L353.97,666.80 L351.06,667.56 Z" fill="#2a2aff"/>
<path d="M447.50,652.50 L442.42,661.25 L440.08,659.37 Z" fill="#2a2aff"/>
<line x1="373.00" y1="744.00" x2="373.00" y2="770.00" stroke="#2828c4" stroke-width="1" />
<text transform="translate(380.50,801.50) rotate(-90)" font-size="21" fill="#2424b0" stroke="#000" stroke-width="0.6" text-anchor="start" textLength="16" lengthAdjust="spacingAndGlyphs">&#216;</text>
<text transform="translate(384.50,787.00) rotate(-90)" font-size="15" fill="#1e1e98" text-anchor="start">2</text>
<path d="M765.8,295.5 L746.5,331 L745,363" stroke="#2828c4" stroke-width="1" fill="none" />
<path d="M765.80,295.50 L762.30,304.99 L759.67,303.54 Z" fill="#2a2aff"/>
<path d="M798,317.5 L787.8,335.4 L787,367" stroke="#2828c4" stroke-width="1" fill="none" />
<text transform="translate(752.50,392.50) rotate(-90)" font-size="17" fill="#2424b0" stroke="#000" stroke-width="0.6" text-anchor="start" textLength="17" lengthAdjust="spacingAndGlyphs">&#216;</text>
<text transform="translate(759.80,377.50) rotate(-90)" font-size="14" fill="#1e1e98" text-anchor="start">2</text>
<text transform="translate(795.00,392.50) rotate(-90)" font-size="17" fill="#2424b0" stroke="#000" stroke-width="0.6" text-anchor="start" textLength="17" lengthAdjust="spacingAndGlyphs">&#216;</text>
<text transform="translate(797.50,376.50) rotate(-90)" font-size="16" fill="#1e1e98" text-anchor="start">1</text>
<path d="M765.8,681.5 L746.5,717 L745,749" stroke="#2828c4" stroke-width="1" fill="none" />
<path d="M765.80,681.50 L762.30,690.99 L759.67,689.54 Z" fill="#2a2aff"/>
<path d="M798,703.5 L787.8,721.4 L787,753" stroke="#2828c4" stroke-width="1" fill="none" />
<text transform="translate(752.50,778.50) rotate(-90)" font-size="17" fill="#2424b0" stroke="#000" stroke-width="0.6" text-anchor="start" textLength="17" lengthAdjust="spacingAndGlyphs">&#216;</text>
<text transform="translate(759.80,763.50) rotate(-90)" font-size="14" fill="#1e1e98" text-anchor="start">2</text>
<text transform="translate(795.00,778.50) rotate(-90)" font-size="17" fill="#2424b0" stroke="#000" stroke-width="0.6" text-anchor="start" textLength="17" lengthAdjust="spacingAndGlyphs">&#216;</text>
<text transform="translate(797.50,762.50) rotate(-90)" font-size="16" fill="#1e1e98" text-anchor="start">1</text>
<path d="M752.19,610.67 A63,63 0 0 1 788.93,588.67" stroke="#2828c4" stroke-width="1" fill="none" />
<path d="M752.19,610.67 L757.16,601.81 L759.87,604.03 Z" fill="#2a2aff"/>
<path d="M788.93,588.67 L779.46,592.30 L778.78,588.86 Z" fill="#2a2aff"/>
<text transform="translate(772.80,597.00) rotate(-90)" font-size="18" fill="#2424b0" stroke="#000" stroke-width="0.6" text-anchor="start" textLength="9" lengthAdjust="spacingAndGlyphs">L</text>
<text transform="translate(774.30,587.00) rotate(-90)" font-size="14" fill="#1e1e98" text-anchor="start">1</text>
<circle cx="801" cy="264.5" r="50" stroke="#ffffff" stroke-width="1.2" fill="none"/>
<circle cx="801" cy="264.5" r="44" stroke="#d0d0d0" stroke-width="1" fill="none"/>
<circle cx="801" cy="264.5" r="39.5" stroke="#d0d0d0" stroke-width="1" fill="none"/>
<path d="M768.5,241.5 L771.5,246.5 L765.5,246.5 Z" stroke="#d0d0d0" stroke-width="1" fill="none"/>
<line x1="793.00" y1="265.50" x2="800.00" y2="265.50" stroke="#2424b0" stroke-width="1.5" />
<rect x="790.5" y="308.5" width="12" height="5" fill="#000" stroke="#d0d0d0" stroke-width="1"/>
<circle cx="768" cy="283.5" r="2.5" stroke="#d0d0d0" stroke-width="1" fill="none"/>
<path d="M753,243 L760,248 L752,252 Z" fill="#ffffff"/>
<path d="M785,314 L791,307 L793,316 Z" fill="#ffffff"/>
<line x1="750.30" y1="152.00" x2="750.30" y2="241.00" stroke="#2828c4" stroke-width="1" />
<line x1="750.30" y1="158.90" x2="800.00" y2="158.90" stroke="#2828c4" stroke-width="1" />
<path d="M751.00,158.90 L764.00,156.60 L764.00,161.20 Z" fill="#2a2aff"/>
<circle cx="801.5" cy="153" r="4" stroke="#2424b0" stroke-width="1.3" fill="none"/>
<circle cx="801" cy="650.5" r="50" stroke="#ffffff" stroke-width="1.2" fill="none"/>
<circle cx="801" cy="650.5" r="44" stroke="#d0d0d0" stroke-width="1" fill="none"/>
<circle cx="801" cy="650.5" r="39.5" stroke="#d0d0d0" stroke-width="1" fill="none"/>
<path d="M768.5,627.5 L771.5,632.5 L765.5,632.5 Z" stroke="#d0d0d0" stroke-width="1" fill="none"/>
<line x1="793.00" y1="651.50" x2="800.00" y2="651.50" stroke="#2424b0" stroke-width="1.5" />
<rect x="790.5" y="694.5" width="12" height="5" fill="#000" stroke="#d0d0d0" stroke-width="1"/>
<circle cx="768" cy="669.5" r="2.5" stroke="#d0d0d0" stroke-width="1" fill="none"/>
<path d="M753,629 L760,634 L752,638 Z" fill="#ffffff"/>
<path d="M785,700 L791,693 L793,702 Z" fill="#ffffff"/>
<line x1="750.30" y1="538.00" x2="750.30" y2="627.00" stroke="#2828c4" stroke-width="1" />
<line x1="750.30" y1="544.90" x2="800.00" y2="544.90" stroke="#2828c4" stroke-width="1" />
<path d="M751.00,544.90 L764.00,542.60 L764.00,547.20 Z" fill="#2a2aff"/>
<circle cx="801.5" cy="539" r="4" stroke="#2424b0" stroke-width="1.3" fill="none"/>
</svg></body></html>
